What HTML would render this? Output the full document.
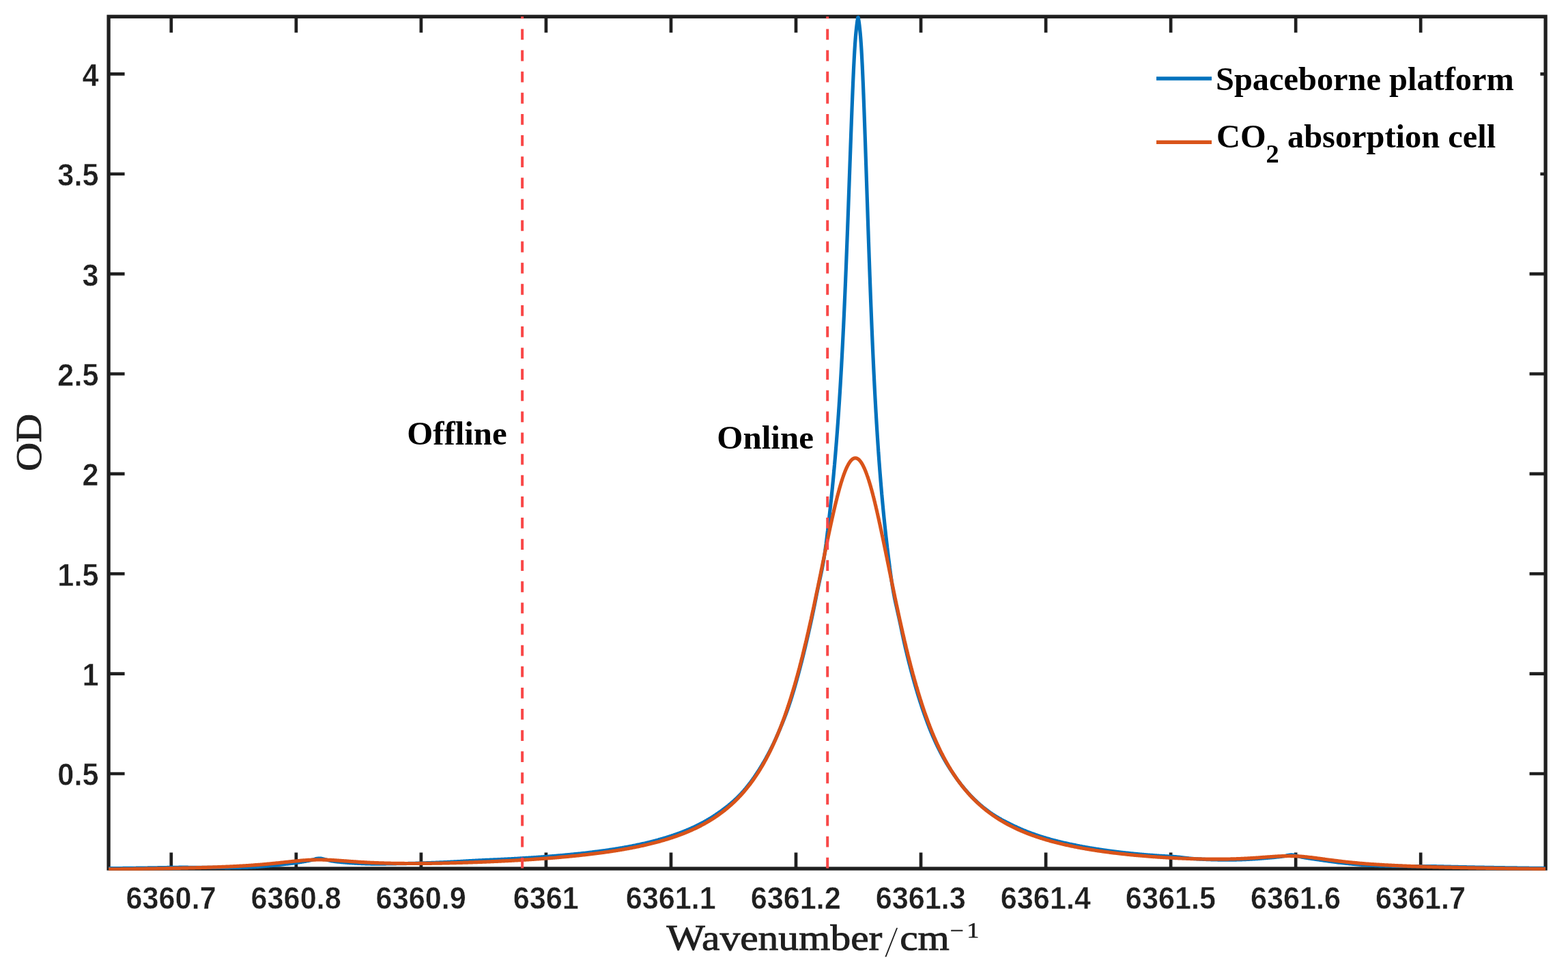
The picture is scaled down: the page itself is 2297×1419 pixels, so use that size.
<!DOCTYPE html>
<html lang="en"><head><meta charset="utf-8"><title>OD vs Wavenumber</title>
<style>
html,body{margin:0;padding:0;background:#fff;}
body{width:2297px;height:1419px;overflow:hidden;}
svg{display:block;filter:blur(0.4px);}
.tick{font-family:"Liberation Sans",Arial,Helvetica,sans-serif;font-weight:bold;font-size:43.2px;fill:#1f1f1f;stroke:#fff;stroke-width:0.45px;}
.leg{font-family:"Liberation Serif","Times New Roman",Times,serif;font-weight:bold;font-size:48.4px;fill:#000;}
.lab{font-family:"Liberation Serif","Times New Roman",Times,serif;font-size:52px;fill:#1f1f1f;stroke:#1f1f1f;stroke-width:0.9px;}
</style></head><body>
<svg width="2297" height="1419" viewBox="0 0 2297 1419" role="img" aria-label="OD versus wavenumber: spaceborne platform and CO2 absorption cell">
<rect x="0" y="0" width="2297" height="1419" fill="#ffffff"/>
<defs><clipPath id="clip"><rect x="156.45" y="21.65" width="2110.30" height="1253.00"/></clipPath>
<clipPath id="clip2"><rect x="159.10" y="24.30" width="2105.00" height="1247.70"/></clipPath></defs>
<g stroke="#1f1f1f" stroke-width="5.30" fill="none" stroke-linecap="butt">
<rect x="159.10" y="24.30" width="2105.00" height="1247.70"/>
<path stroke-width="4.70" d="M250.80,1272.00 V1248.50 M250.80,24.30 V47.80 M433.84,1272.00 V1248.50 M433.84,24.30 V47.80 M616.88,1272.00 V1248.50 M616.88,24.30 V47.80 M799.92,1272.00 V1248.50 M799.92,24.30 V47.80 M982.96,1272.00 V1248.50 M982.96,24.30 V47.80 M1166.00,1272.00 V1248.50 M1166.00,24.30 V47.80 M1349.04,1272.00 V1248.50 M1349.04,24.30 V47.80 M1532.08,1272.00 V1248.50 M1532.08,24.30 V47.80 M1715.12,1272.00 V1248.50 M1715.12,24.30 V47.80 M1898.16,1272.00 V1248.50 M1898.16,24.30 V47.80 M2081.20,1272.00 V1248.50 M2081.20,24.30 V47.80 M159.10,1132.99 H182.60 M2264.10,1132.99 H2240.60 M159.10,986.62 H182.60 M2264.10,986.62 H2240.60 M159.10,840.25 H182.60 M2264.10,840.25 H2240.60 M159.10,693.88 H182.60 M2264.10,693.88 H2240.60 M159.10,547.51 H182.60 M2264.10,547.51 H2240.60 M159.10,401.14 H182.60 M2264.10,401.14 H2240.60 M159.10,254.77 H182.60 M2264.10,254.77 H2240.60 M159.10,108.40 H182.60 M2264.10,108.40 H2240.60"/>
</g>
<g class="tick" text-anchor="middle">
<text transform="translate(250.60,1330.80) scale(1,1.052)">6360.7</text>
<text transform="translate(433.64,1330.80) scale(1,1.052)">6360.8</text>
<text transform="translate(616.68,1330.80) scale(1,1.052)">6360.9</text>
<text transform="translate(799.72,1330.80) scale(1,1.052)">6361</text>
<text transform="translate(982.76,1330.80) scale(1,1.052)">6361.1</text>
<text transform="translate(1165.80,1330.80) scale(1,1.052)">6361.2</text>
<text transform="translate(1348.84,1330.80) scale(1,1.052)">6361.3</text>
<text transform="translate(1531.88,1330.80) scale(1,1.052)">6361.4</text>
<text transform="translate(1714.92,1330.80) scale(1,1.052)">6361.5</text>
<text transform="translate(1897.96,1330.80) scale(1,1.052)">6361.6</text>
<text transform="translate(2081.00,1330.80) scale(1,1.052)">6361.7</text>
</g>
<g class="tick" text-anchor="end">
<text transform="translate(144.40,1150.39) scale(1,1.052)">0.5</text>
<text transform="translate(144.40,1004.02) scale(1,1.052)">1</text>
<text transform="translate(144.40,857.65) scale(1,1.052)">1.5</text>
<text transform="translate(144.40,711.28) scale(1,1.052)">2</text>
<text transform="translate(144.40,564.91) scale(1,1.052)">2.5</text>
<text transform="translate(144.40,418.54) scale(1,1.052)">3</text>
<text transform="translate(144.40,272.17) scale(1,1.052)">3.5</text>
<text transform="translate(144.40,125.80) scale(1,1.052)">4</text>
</g>
<g clip-path="url(#clip)" fill="none" stroke-linejoin="bevel" stroke-linecap="butt">
<path stroke="#0072bd" stroke-width="5.20" d="M159.10,1271.72 L160.10,1271.71 L161.10,1271.69 L162.10,1271.68 L163.10,1271.67 L164.10,1271.66 L165.10,1271.65 L166.10,1271.64 L167.10,1271.62 L168.10,1271.61 L169.10,1271.60 L170.10,1271.59 L171.10,1271.58 L172.10,1271.57 L173.10,1271.55 L174.10,1271.54 L175.10,1271.53 L176.10,1271.52 L177.10,1271.50 L178.10,1271.49 L179.10,1271.48 L180.10,1271.47 L181.10,1271.46 L182.10,1271.44 L183.10,1271.43 L184.10,1271.42 L185.10,1271.40 L186.10,1271.39 L187.10,1271.38 L188.10,1271.37 L189.10,1271.35 L190.10,1271.34 L191.10,1271.33 L192.10,1271.31 L193.10,1271.30 L194.10,1271.29 L195.10,1271.27 L196.10,1271.26 L197.10,1271.24 L198.10,1271.23 L199.10,1271.22 L200.10,1271.20 L201.10,1271.19 L202.10,1271.17 L203.10,1271.16 L204.10,1271.15 L205.10,1271.13 L206.10,1271.12 L207.10,1271.10 L208.10,1271.09 L209.10,1271.07 L210.10,1271.06 L211.10,1271.04 L212.10,1271.03 L213.10,1271.01 L214.10,1271.00 L215.10,1270.98 L216.10,1270.97 L217.10,1270.95 L218.10,1270.93 L219.10,1270.92 L220.10,1270.90 L221.10,1270.89 L222.10,1270.87 L223.10,1270.85 L224.10,1270.84 L225.10,1270.82 L226.10,1270.80 L227.10,1270.79 L228.10,1270.77 L229.10,1270.75 L230.10,1270.74 L231.10,1270.72 L232.10,1270.70 L233.10,1270.68 L234.10,1270.67 L235.10,1270.65 L236.10,1270.63 L237.10,1270.61 L238.10,1270.59 L239.10,1270.58 L240.10,1270.56 L241.10,1270.54 L242.10,1270.52 L243.10,1270.50 L244.10,1270.48 L245.10,1270.46 L246.10,1270.45 L247.10,1270.43 L248.10,1270.41 L249.10,1270.39 L250.10,1270.37 L251.10,1270.35 L252.10,1270.33 L253.10,1270.31 L254.10,1270.30 L255.10,1270.29 L256.10,1270.27 L257.10,1270.26 L258.10,1270.25 L259.10,1270.24 L260.10,1270.24 L261.10,1270.23 L262.10,1270.22 L263.10,1270.22 L264.10,1270.21 L265.10,1270.21 L266.10,1270.21 L267.10,1270.21 L268.10,1270.21 L269.10,1270.21 L270.10,1270.21 L271.10,1270.21 L272.10,1270.21 L273.10,1270.22 L274.10,1270.22 L275.10,1270.22 L276.10,1270.23 L277.10,1270.23 L278.10,1270.23 L279.10,1270.24 L280.10,1270.24 L281.10,1270.25 L282.10,1270.25 L283.10,1270.26 L284.10,1270.27 L285.10,1270.27 L286.10,1270.28 L287.10,1270.28 L288.10,1270.29 L289.10,1270.29 L290.10,1270.30 L291.10,1270.30 L292.10,1270.31 L293.10,1270.31 L294.10,1270.31 L295.10,1270.32 L296.10,1270.32 L297.10,1270.32 L298.10,1270.32 L299.10,1270.32 L300.10,1270.32 L301.10,1270.32 L302.10,1270.32 L303.10,1270.33 L304.10,1270.33 L305.10,1270.33 L306.10,1270.34 L307.10,1270.34 L308.10,1270.35 L309.10,1270.36 L310.10,1270.36 L311.10,1270.37 L312.10,1270.38 L313.10,1270.39 L314.10,1270.40 L315.10,1270.41 L316.10,1270.42 L317.10,1270.43 L318.10,1270.44 L319.10,1270.45 L320.10,1270.46 L321.10,1270.46 L322.10,1270.47 L323.10,1270.48 L324.10,1270.49 L325.10,1270.50 L326.10,1270.51 L327.10,1270.51 L328.10,1270.52 L329.10,1270.52 L330.10,1270.53 L331.10,1270.53 L332.10,1270.53 L333.10,1270.53 L334.10,1270.53 L335.10,1270.53 L336.10,1270.53 L337.10,1270.53 L338.10,1270.52 L339.10,1270.52 L340.10,1270.51 L341.10,1270.50 L342.10,1270.49 L343.10,1270.48 L344.10,1270.46 L345.10,1270.45 L346.10,1270.43 L347.10,1270.41 L348.10,1270.39 L349.10,1270.37 L350.10,1270.35 L351.10,1270.33 L352.10,1270.31 L353.10,1270.29 L354.10,1270.27 L355.10,1270.25 L356.10,1270.23 L357.10,1270.20 L358.10,1270.18 L359.10,1270.15 L360.10,1270.12 L361.10,1270.09 L362.10,1270.06 L363.10,1270.03 L364.10,1270.00 L365.10,1269.96 L366.10,1269.92 L367.10,1269.88 L368.10,1269.84 L369.10,1269.80 L370.10,1269.75 L371.10,1269.70 L372.10,1269.65 L373.10,1269.60 L374.10,1269.54 L375.10,1269.48 L376.10,1269.42 L377.10,1269.35 L378.10,1269.29 L379.10,1269.22 L380.10,1269.14 L381.10,1269.06 L382.10,1268.99 L383.10,1268.91 L384.10,1268.83 L385.10,1268.75 L386.10,1268.66 L387.10,1268.58 L388.10,1268.50 L389.10,1268.41 L390.10,1268.32 L391.10,1268.23 L392.10,1268.14 L393.10,1268.05 L394.10,1267.96 L395.10,1267.87 L396.10,1267.77 L397.10,1267.68 L398.10,1267.58 L399.10,1267.48 L400.10,1267.38 L401.10,1267.28 L402.10,1267.18 L403.10,1267.08 L404.10,1266.97 L405.10,1266.87 L406.10,1266.76 L407.10,1266.66 L408.10,1266.55 L409.10,1266.44 L410.10,1266.33 L411.10,1266.22 L412.10,1266.10 L413.10,1265.99 L414.10,1265.88 L415.10,1265.76 L416.10,1265.64 L417.10,1265.53 L418.10,1265.41 L419.10,1265.29 L420.10,1265.17 L421.10,1265.05 L422.10,1264.93 L423.10,1264.81 L424.10,1264.68 L425.10,1264.56 L426.10,1264.43 L427.10,1264.31 L428.10,1264.18 L429.10,1264.06 L430.10,1263.93 L431.10,1263.80 L432.10,1263.67 L433.10,1263.54 L434.10,1263.41 L435.10,1263.27 L436.10,1263.13 L437.10,1262.99 L438.10,1262.84 L439.10,1262.69 L440.10,1262.53 L441.10,1262.38 L442.10,1262.22 L443.10,1262.05 L444.10,1261.89 L445.10,1261.72 L446.10,1261.54 L447.10,1261.37 L448.10,1261.19 L449.10,1261.00 L450.10,1260.81 L451.10,1260.61 L452.10,1260.41 L453.10,1260.20 L454.10,1259.98 L455.10,1259.74 L456.10,1259.50 L457.10,1259.24 L458.10,1258.98 L459.10,1258.70 L460.10,1258.43 L461.10,1258.15 L462.10,1257.88 L463.10,1257.63 L464.10,1257.41 L465.10,1257.22 L466.10,1257.08 L467.10,1257.00 L468.10,1256.98 L469.10,1257.01 L470.10,1257.11 L471.10,1257.26 L472.10,1257.46 L473.10,1257.69 L474.10,1257.95 L475.10,1258.22 L476.10,1258.50 L477.10,1258.77 L478.10,1259.04 L479.10,1259.31 L480.10,1259.56 L481.10,1259.80 L482.10,1260.02 L483.10,1260.24 L484.10,1260.44 L485.10,1260.64 L486.10,1260.82 L487.10,1260.99 L488.10,1261.15 L489.10,1261.30 L490.10,1261.44 L491.10,1261.58 L492.10,1261.70 L493.10,1261.83 L494.10,1261.94 L495.10,1262.05 L496.10,1262.16 L497.10,1262.26 L498.10,1262.37 L499.10,1262.46 L500.10,1262.56 L501.10,1262.65 L502.10,1262.74 L503.10,1262.84 L504.10,1262.92 L505.10,1263.01 L506.10,1263.09 L507.10,1263.18 L508.10,1263.26 L509.10,1263.33 L510.10,1263.41 L511.10,1263.49 L512.10,1263.56 L513.10,1263.63 L514.10,1263.70 L515.10,1263.77 L516.10,1263.84 L517.10,1263.90 L518.10,1263.96 L519.10,1264.03 L520.10,1264.09 L521.10,1264.15 L522.10,1264.20 L523.10,1264.26 L524.10,1264.31 L525.10,1264.36 L526.10,1264.42 L527.10,1264.46 L528.10,1264.51 L529.10,1264.56 L530.10,1264.60 L531.10,1264.65 L532.10,1264.69 L533.10,1264.73 L534.10,1264.77 L535.10,1264.80 L536.10,1264.84 L537.10,1264.87 L538.10,1264.90 L539.10,1264.93 L540.10,1264.96 L541.10,1264.99 L542.10,1265.02 L543.10,1265.04 L544.10,1265.06 L545.10,1265.07 L546.10,1265.09 L547.10,1265.10 L548.10,1265.11 L549.10,1265.12 L550.10,1265.13 L551.10,1265.13 L552.10,1265.13 L553.10,1265.13 L554.10,1265.13 L555.10,1265.13 L556.10,1265.12 L557.10,1265.12 L558.10,1265.11 L559.10,1265.10 L560.10,1265.09 L561.10,1265.08 L562.10,1265.07 L563.10,1265.06 L564.10,1265.04 L565.10,1265.03 L566.10,1265.01 L567.10,1265.00 L568.10,1264.98 L569.10,1264.96 L570.10,1264.95 L571.10,1264.93 L572.10,1264.91 L573.10,1264.89 L574.10,1264.88 L575.10,1264.86 L576.10,1264.84 L577.10,1264.83 L578.10,1264.81 L579.10,1264.79 L580.10,1264.78 L581.10,1264.76 L582.10,1264.75 L583.10,1264.73 L584.10,1264.72 L585.10,1264.70 L586.10,1264.69 L587.10,1264.67 L588.10,1264.65 L589.10,1264.64 L590.10,1264.62 L591.10,1264.60 L592.10,1264.58 L593.10,1264.56 L594.10,1264.55 L595.10,1264.53 L596.10,1264.51 L597.10,1264.49 L598.10,1264.47 L599.10,1264.45 L600.10,1264.42 L601.10,1264.40 L602.10,1264.38 L603.10,1264.36 L604.10,1264.33 L605.10,1264.31 L606.10,1264.29 L607.10,1264.26 L608.10,1264.24 L609.10,1264.21 L610.10,1264.18 L611.10,1264.16 L612.10,1264.13 L613.10,1264.10 L614.10,1264.07 L615.10,1264.04 L616.10,1264.01 L617.10,1263.98 L618.10,1263.95 L619.10,1263.92 L620.10,1263.88 L621.10,1263.85 L622.10,1263.82 L623.10,1263.78 L624.10,1263.75 L625.10,1263.71 L626.10,1263.68 L627.10,1263.64 L628.10,1263.60 L629.10,1263.56 L630.10,1263.53 L631.10,1263.49 L632.10,1263.45 L633.10,1263.41 L634.10,1263.37 L635.10,1263.33 L636.10,1263.29 L637.10,1263.25 L638.10,1263.21 L639.10,1263.16 L640.10,1263.12 L641.10,1263.08 L642.10,1263.04 L643.10,1262.99 L644.10,1262.95 L645.10,1262.91 L646.10,1262.86 L647.10,1262.82 L648.10,1262.77 L649.10,1262.73 L650.10,1262.68 L651.10,1262.64 L652.10,1262.59 L653.10,1262.55 L654.10,1262.50 L655.10,1262.46 L656.10,1262.41 L657.10,1262.36 L658.10,1262.32 L659.10,1262.27 L660.10,1262.22 L661.10,1262.17 L662.10,1262.12 L663.10,1262.07 L664.10,1262.02 L665.10,1261.97 L666.10,1261.92 L667.10,1261.87 L668.10,1261.81 L669.10,1261.76 L670.10,1261.70 L671.10,1261.65 L672.10,1261.59 L673.10,1261.53 L674.10,1261.48 L675.10,1261.42 L676.10,1261.36 L677.10,1261.30 L678.10,1261.24 L679.10,1261.18 L680.10,1261.13 L681.10,1261.07 L682.10,1261.01 L683.10,1260.95 L684.10,1260.89 L685.10,1260.83 L686.10,1260.77 L687.10,1260.71 L688.10,1260.65 L689.10,1260.59 L690.10,1260.54 L691.10,1260.48 L692.10,1260.42 L693.10,1260.36 L694.10,1260.31 L695.10,1260.25 L696.10,1260.20 L697.10,1260.14 L698.10,1260.09 L699.10,1260.04 L700.10,1259.98 L701.10,1259.93 L702.10,1259.88 L703.10,1259.83 L704.10,1259.78 L705.10,1259.73 L706.10,1259.69 L707.10,1259.64 L708.10,1259.59 L709.10,1259.55 L710.10,1259.51 L711.10,1259.47 L712.10,1259.43 L713.10,1259.39 L714.10,1259.34 L715.10,1259.30 L716.10,1259.26 L717.10,1259.22 L718.10,1259.17 L719.10,1259.13 L720.10,1259.09 L721.10,1259.04 L722.10,1259.00 L723.10,1258.95 L724.10,1258.91 L725.10,1258.86 L726.10,1258.82 L727.10,1258.77 L728.10,1258.73 L729.10,1258.68 L730.10,1258.63 L731.10,1258.59 L732.10,1258.54 L733.10,1258.49 L734.10,1258.44 L735.10,1258.39 L736.10,1258.35 L737.10,1258.30 L738.10,1258.25 L739.10,1258.20 L740.10,1258.15 L741.10,1258.09 L742.10,1258.04 L743.10,1257.99 L744.10,1257.94 L745.10,1257.89 L746.10,1257.84 L747.10,1257.78 L748.10,1257.73 L749.10,1257.68 L750.10,1257.62 L751.10,1257.57 L752.10,1257.51 L753.10,1257.46 L754.10,1257.40 L755.10,1257.35 L756.10,1257.29 L757.10,1257.23 L758.10,1257.18 L759.10,1257.12 L760.10,1257.06 L761.10,1257.00 L762.10,1256.94 L763.10,1256.88 L764.10,1256.83 L765.10,1256.77 L766.10,1256.70 L767.10,1256.64 L768.10,1256.58 L769.10,1256.52 L770.10,1256.46 L771.10,1256.40 L772.10,1256.33 L773.10,1256.27 L774.10,1256.21 L775.10,1256.14 L776.10,1256.08 L777.10,1256.01 L778.10,1255.95 L779.10,1255.88 L780.10,1255.82 L781.10,1255.75 L782.10,1255.68 L783.10,1255.62 L784.10,1255.55 L785.10,1255.48 L786.10,1255.41 L787.10,1255.34 L788.10,1255.27 L789.10,1255.20 L790.10,1255.13 L791.10,1255.06 L792.10,1254.99 L793.10,1254.91 L794.10,1254.84 L795.10,1254.77 L796.10,1254.70 L797.10,1254.62 L798.10,1254.55 L799.10,1254.47 L800.10,1254.40 L801.10,1254.32 L802.10,1254.24 L803.10,1254.17 L804.10,1254.09 L805.10,1254.01 L806.10,1253.93 L807.10,1253.85 L808.10,1253.77 L809.10,1253.69 L810.10,1253.61 L811.10,1253.53 L812.10,1253.45 L813.10,1253.36 L814.10,1253.28 L815.10,1253.20 L816.10,1253.11 L817.10,1253.03 L818.10,1252.94 L819.10,1252.86 L820.10,1252.77 L821.10,1252.68 L822.10,1252.59 L823.10,1252.50 L824.10,1252.42 L825.10,1252.33 L826.10,1252.24 L827.10,1252.14 L828.10,1252.05 L829.10,1251.96 L830.10,1251.87 L831.10,1251.77 L832.10,1251.68 L833.10,1251.59 L834.10,1251.49 L835.10,1251.39 L836.10,1251.30 L837.10,1251.20 L838.10,1251.10 L839.10,1251.00 L840.10,1250.90 L841.10,1250.80 L842.10,1250.70 L843.10,1250.60 L844.10,1250.50 L845.10,1250.39 L846.10,1250.29 L847.10,1250.19 L848.10,1250.08 L849.10,1249.97 L850.10,1249.87 L851.10,1249.76 L852.10,1249.65 L853.10,1249.54 L854.10,1249.43 L855.10,1249.32 L856.10,1249.21 L857.10,1249.10 L858.10,1248.98 L859.10,1248.87 L860.10,1248.75 L861.10,1248.64 L862.10,1248.52 L863.10,1248.40 L864.10,1248.29 L865.10,1248.17 L866.10,1248.05 L867.10,1247.93 L868.10,1247.80 L869.10,1247.68 L870.10,1247.56 L871.10,1247.43 L872.10,1247.31 L873.10,1247.18 L874.10,1247.05 L875.10,1246.93 L876.10,1246.80 L877.10,1246.67 L878.10,1246.53 L879.10,1246.40 L880.10,1246.27 L881.10,1246.13 L882.10,1246.00 L883.10,1245.86 L884.10,1245.73 L885.10,1245.59 L886.10,1245.45 L887.10,1245.31 L888.10,1245.17 L889.10,1245.02 L890.10,1244.88 L891.10,1244.73 L892.10,1244.59 L893.10,1244.44 L894.10,1244.29 L895.10,1244.14 L896.10,1243.99 L897.10,1243.84 L898.10,1243.69 L899.10,1243.53 L900.10,1243.38 L901.10,1243.22 L902.10,1243.06 L903.10,1242.90 L904.10,1242.74 L905.10,1242.58 L906.10,1242.41 L907.10,1242.25 L908.10,1242.08 L909.10,1241.91 L910.10,1241.74 L911.10,1241.57 L912.10,1241.39 L913.10,1241.22 L914.10,1241.04 L915.10,1240.86 L916.10,1240.68 L917.10,1240.50 L918.10,1240.32 L919.10,1240.14 L920.10,1239.95 L921.10,1239.76 L922.10,1239.57 L923.10,1239.38 L924.10,1239.19 L925.10,1238.99 L926.10,1238.80 L927.10,1238.60 L928.10,1238.40 L929.10,1238.20 L930.10,1237.99 L931.10,1237.79 L932.10,1237.58 L933.10,1237.37 L934.10,1237.16 L935.10,1236.95 L936.10,1236.73 L937.10,1236.52 L938.10,1236.30 L939.10,1236.08 L940.10,1235.86 L941.10,1235.63 L942.10,1235.41 L943.10,1235.18 L944.10,1234.95 L945.10,1234.72 L946.10,1234.48 L947.10,1234.25 L948.10,1234.01 L949.10,1233.77 L950.10,1233.53 L951.10,1233.28 L952.10,1233.04 L953.10,1232.79 L954.10,1232.54 L955.10,1232.28 L956.10,1232.03 L957.10,1231.77 L958.10,1231.51 L959.10,1231.25 L960.10,1230.98 L961.10,1230.71 L962.10,1230.44 L963.10,1230.17 L964.10,1229.90 L965.10,1229.62 L966.10,1229.34 L967.10,1229.06 L968.10,1228.77 L969.10,1228.48 L970.10,1228.19 L971.10,1227.90 L972.10,1227.61 L973.10,1227.31 L974.10,1227.01 L975.10,1226.70 L976.10,1226.40 L977.10,1226.09 L978.10,1225.77 L979.10,1225.46 L980.10,1225.14 L981.10,1224.82 L982.10,1224.49 L983.10,1224.17 L984.10,1223.84 L985.10,1223.50 L986.10,1223.17 L987.10,1222.83 L988.10,1222.48 L989.10,1222.13 L990.10,1221.78 L991.10,1221.43 L992.10,1221.07 L993.10,1220.71 L994.10,1220.34 L995.10,1219.98 L996.10,1219.60 L997.10,1219.23 L998.10,1218.84 L999.10,1218.46 L1000.10,1218.07 L1001.10,1217.68 L1002.10,1217.28 L1003.10,1216.88 L1004.10,1216.47 L1005.10,1216.07 L1006.10,1215.65 L1007.10,1215.23 L1008.10,1214.81 L1009.10,1214.38 L1010.10,1213.95 L1011.10,1213.51 L1012.10,1213.07 L1013.10,1212.63 L1014.10,1212.17 L1015.10,1211.72 L1016.10,1211.26 L1017.10,1210.79 L1018.10,1210.32 L1019.10,1209.84 L1020.10,1209.36 L1021.10,1208.87 L1022.10,1208.38 L1023.10,1207.88 L1024.10,1207.38 L1025.10,1206.87 L1026.10,1206.35 L1027.10,1205.83 L1028.10,1205.31 L1029.10,1204.77 L1030.10,1204.23 L1031.10,1203.69 L1032.10,1203.14 L1033.10,1202.58 L1034.10,1202.01 L1035.10,1201.44 L1036.10,1200.86 L1037.10,1200.28 L1038.10,1199.69 L1039.10,1199.09 L1040.10,1198.48 L1041.10,1197.87 L1042.10,1197.25 L1043.10,1196.62 L1044.10,1195.99 L1045.10,1195.35 L1046.10,1194.69 L1047.10,1194.04 L1048.10,1193.37 L1049.10,1192.69 L1050.10,1192.01 L1051.10,1191.32 L1052.10,1190.63 L1053.10,1189.93 L1054.10,1189.23 L1055.10,1188.52 L1056.10,1187.80 L1057.10,1187.08 L1058.10,1186.35 L1059.10,1185.61 L1060.10,1184.87 L1061.10,1184.12 L1062.10,1183.36 L1063.10,1182.59 L1064.10,1181.81 L1065.10,1181.02 L1066.10,1180.23 L1067.10,1179.42 L1068.10,1178.60 L1069.10,1177.78 L1070.10,1176.94 L1071.10,1176.09 L1072.10,1175.23 L1073.10,1174.35 L1074.10,1173.47 L1075.10,1172.57 L1076.10,1171.65 L1077.10,1170.73 L1078.10,1169.78 L1079.10,1168.83 L1080.10,1167.86 L1081.10,1166.87 L1082.10,1165.87 L1083.10,1164.85 L1084.10,1163.81 L1085.10,1162.76 L1086.10,1161.69 L1087.10,1160.60 L1088.10,1159.49 L1089.10,1158.36 L1090.10,1157.21 L1091.10,1156.05 L1092.10,1154.86 L1093.10,1153.65 L1094.10,1152.43 L1095.10,1151.18 L1096.10,1149.92 L1097.10,1148.64 L1098.10,1147.34 L1099.10,1146.02 L1100.10,1144.68 L1101.10,1143.32 L1102.10,1141.94 L1103.10,1140.55 L1104.10,1139.13 L1105.10,1137.69 L1106.10,1136.23 L1107.10,1134.75 L1108.10,1133.25 L1109.10,1131.73 L1110.10,1130.19 L1111.10,1128.62 L1112.10,1127.04 L1113.10,1125.44 L1114.10,1123.82 L1115.10,1122.19 L1116.10,1120.53 L1117.10,1118.86 L1118.10,1117.16 L1119.10,1115.45 L1120.10,1113.71 L1121.10,1111.95 L1122.10,1110.17 L1123.10,1108.36 L1124.10,1106.53 L1125.10,1104.68 L1126.10,1102.79 L1127.10,1100.89 L1128.10,1098.95 L1129.10,1096.99 L1130.10,1094.99 L1131.10,1092.97 L1132.10,1090.92 L1133.10,1088.84 L1134.10,1086.72 L1135.10,1084.57 L1136.10,1082.39 L1137.10,1080.18 L1138.10,1077.93 L1139.10,1075.64 L1140.10,1073.32 L1141.10,1070.98 L1142.10,1068.62 L1143.10,1066.25 L1144.10,1063.86 L1145.10,1061.44 L1146.10,1059.00 L1147.10,1056.52 L1148.10,1054.01 L1149.10,1051.46 L1150.10,1048.87 L1151.10,1046.23 L1152.10,1043.54 L1153.10,1040.80 L1154.10,1038.01 L1155.10,1035.15 L1156.10,1032.23 L1157.10,1029.25 L1158.10,1026.19 L1159.10,1023.06 L1160.10,1019.86 L1161.10,1016.59 L1162.10,1013.28 L1163.10,1009.92 L1164.10,1006.51 L1165.10,1003.05 L1166.10,999.55 L1167.10,995.99 L1168.10,992.39 L1169.10,988.74 L1170.10,985.04 L1171.10,981.30 L1172.10,977.50 L1173.10,973.65 L1174.10,969.76 L1175.10,965.82 L1176.10,961.83 L1177.10,957.79 L1178.10,953.71 L1179.10,949.57 L1180.00,945.82 L1180.10,945.40 L1180.25,944.77 L1180.50,943.71 L1180.75,942.65 L1181.00,941.60 L1181.10,941.17 L1181.25,940.53 L1181.50,939.47 L1181.75,938.40 L1182.00,937.33 L1182.10,936.90 L1182.25,936.26 L1182.50,935.18 L1182.75,934.10 L1183.00,933.02 L1183.10,932.59 L1183.25,931.94 L1183.50,930.85 L1183.75,929.76 L1184.00,928.67 L1184.10,928.23 L1184.25,927.57 L1184.50,926.47 L1184.75,925.37 L1185.00,924.27 L1185.10,923.83 L1185.25,923.16 L1185.50,922.05 L1185.75,920.94 L1186.00,919.83 L1186.10,919.38 L1186.25,918.71 L1186.50,917.59 L1186.75,916.47 L1187.00,915.35 L1187.10,914.90 L1187.25,914.22 L1187.50,913.09 L1187.75,911.96 L1188.00,910.83 L1188.10,910.37 L1188.25,909.69 L1188.50,908.55 L1188.75,907.40 L1189.00,906.24 L1189.10,905.78 L1189.25,905.08 L1189.50,903.92 L1189.75,902.75 L1190.00,901.57 L1190.10,901.10 L1190.25,900.39 L1190.50,899.21 L1190.75,898.02 L1191.00,896.82 L1191.10,896.35 L1191.25,895.63 L1191.50,894.42 L1191.75,893.21 L1192.00,892.00 L1192.10,891.52 L1192.25,890.79 L1192.50,889.57 L1192.75,888.34 L1193.00,887.11 L1193.10,886.62 L1193.25,885.88 L1193.50,884.64 L1193.75,883.40 L1194.00,882.16 L1194.10,881.66 L1194.25,880.91 L1194.50,879.66 L1194.75,878.41 L1195.00,877.15 L1195.10,876.65 L1195.25,875.89 L1195.50,874.63 L1195.75,873.36 L1196.00,872.09 L1196.10,871.59 L1196.25,870.83 L1196.50,869.58 L1196.75,868.35 L1197.00,867.12 L1197.10,866.64 L1197.25,865.91 L1197.50,864.72 L1197.75,863.53 L1198.00,862.35 L1198.10,861.88 L1198.25,861.18 L1198.50,860.01 L1198.75,858.85 L1199.00,857.70 L1199.10,857.24 L1199.25,856.56 L1199.50,855.41 L1199.75,854.27 L1200.00,853.13 L1200.10,852.67 L1200.25,851.99 L1200.50,850.85 L1200.75,849.71 L1201.00,848.56 L1201.10,848.10 L1201.25,847.41 L1201.50,846.26 L1201.75,845.10 L1202.00,843.93 L1202.10,843.46 L1202.25,842.76 L1202.50,841.57 L1202.75,840.38 L1203.00,839.17 L1203.10,838.71 L1203.25,838.00 L1203.50,836.82 L1203.75,835.62 L1204.00,834.40 L1204.10,833.90 L1204.25,833.15 L1204.50,831.89 L1204.75,830.60 L1205.00,829.29 L1205.10,828.76 L1205.25,827.96 L1205.50,826.60 L1205.75,825.21 L1206.00,823.80 L1206.10,823.22 L1206.25,822.36 L1206.50,820.89 L1206.75,819.39 L1207.00,817.86 L1207.10,817.24 L1207.25,816.30 L1207.50,814.72 L1207.75,813.10 L1208.00,811.45 L1208.10,810.78 L1208.25,809.77 L1208.50,808.06 L1208.75,806.32 L1209.00,804.55 L1209.10,803.84 L1209.25,802.75 L1209.50,800.92 L1209.75,799.06 L1210.00,797.18 L1210.10,796.41 L1210.25,795.26 L1210.50,793.32 L1210.75,791.35 L1211.00,789.35 L1211.10,788.55 L1211.25,787.34 L1211.50,785.30 L1211.75,783.24 L1212.00,781.16 L1212.10,780.32 L1212.25,779.06 L1212.50,776.95 L1212.75,774.83 L1213.00,772.70 L1213.10,771.84 L1213.25,770.56 L1213.50,768.42 L1213.75,766.27 L1214.00,764.13 L1214.10,763.27 L1214.25,761.98 L1214.50,759.82 L1214.75,757.64 L1215.00,755.44 L1215.10,754.56 L1215.25,753.23 L1215.50,751.00 L1215.75,748.76 L1216.00,746.50 L1216.10,745.59 L1216.25,744.22 L1216.50,741.92 L1216.75,739.61 L1217.00,737.27 L1217.10,736.34 L1217.25,734.92 L1217.50,732.55 L1217.75,730.16 L1218.00,727.76 L1218.10,726.79 L1218.25,725.33 L1218.50,722.88 L1218.75,720.42 L1219.00,717.93 L1219.10,716.93 L1219.25,715.42 L1219.50,712.89 L1219.75,710.34 L1220.00,707.77 L1220.10,706.73 L1220.25,705.17 L1220.50,702.55 L1220.75,699.91 L1221.00,697.25 L1221.10,696.17 L1221.25,694.56 L1221.50,691.84 L1221.75,689.11 L1222.00,686.34 L1222.10,685.23 L1222.25,683.55 L1222.50,680.74 L1222.75,677.89 L1223.00,675.02 L1223.10,673.87 L1223.25,672.12 L1223.50,669.20 L1223.75,666.24 L1224.00,663.26 L1224.10,662.05 L1224.25,660.24 L1224.50,657.20 L1224.75,654.12 L1225.00,651.01 L1225.10,649.75 L1225.25,647.86 L1225.50,644.69 L1225.75,641.48 L1226.00,638.23 L1226.10,636.93 L1226.25,634.95 L1226.50,631.64 L1226.75,628.28 L1227.00,624.89 L1227.10,623.52 L1227.25,621.46 L1227.50,617.99 L1227.75,614.48 L1228.00,610.93 L1228.10,609.50 L1228.25,607.34 L1228.50,603.70 L1228.75,600.02 L1229.00,596.30 L1229.10,594.80 L1229.25,592.53 L1229.50,588.72 L1229.75,584.86 L1230.00,580.95 L1230.10,579.37 L1230.25,576.99 L1230.50,572.98 L1230.75,568.92 L1231.00,564.81 L1231.10,563.15 L1231.25,560.65 L1231.50,556.43 L1231.75,552.16 L1232.00,547.84 L1232.10,546.09 L1232.25,543.46 L1232.50,539.02 L1232.75,534.52 L1233.00,529.97 L1233.10,528.13 L1233.25,525.35 L1233.50,520.68 L1233.75,515.95 L1234.00,511.15 L1234.10,509.21 L1234.25,506.29 L1234.50,501.37 L1234.75,496.39 L1235.00,491.34 L1235.10,489.30 L1235.25,486.22 L1235.50,481.05 L1235.75,475.80 L1236.00,470.49 L1236.10,468.35 L1236.25,465.12 L1236.50,459.68 L1236.75,454.17 L1237.00,448.60 L1237.10,446.35 L1237.25,442.96 L1237.50,437.26 L1237.75,431.49 L1238.00,425.65 L1238.10,423.30 L1238.25,419.75 L1238.50,413.79 L1238.75,407.76 L1239.00,401.67 L1239.10,399.22 L1239.25,395.52 L1239.50,389.31 L1239.75,383.04 L1240.00,376.71 L1240.10,374.17 L1240.25,370.33 L1240.50,363.89 L1240.75,357.40 L1241.00,350.86 L1241.10,348.22 L1241.25,344.26 L1241.50,337.63 L1241.75,330.95 L1242.00,324.23 L1242.10,321.53 L1242.25,317.47 L1242.50,310.67 L1242.75,303.84 L1243.00,296.99 L1243.10,294.24 L1243.25,290.10 L1243.50,283.20 L1243.75,276.28 L1244.00,269.35 L1244.10,266.57 L1244.25,262.40 L1244.50,255.45 L1244.75,248.50 L1245.00,241.56 L1245.10,238.78 L1245.25,234.62 L1245.50,227.70 L1245.75,220.79 L1246.00,213.91 L1246.10,211.17 L1246.25,207.06 L1246.50,200.25 L1246.75,193.47 L1247.00,186.74 L1247.10,184.07 L1247.25,180.07 L1247.50,173.45 L1247.75,166.90 L1248.00,160.42 L1248.10,157.85 L1248.25,154.02 L1248.50,147.70 L1248.75,141.47 L1249.00,135.34 L1249.10,132.91 L1249.25,129.31 L1249.50,123.39 L1249.75,117.58 L1250.01,111.90 L1250.11,109.66 L1250.26,106.34 L1250.51,100.92 L1250.77,95.64 L1251.03,90.51 L1251.13,88.50 L1251.29,85.53 L1251.55,80.71 L1251.82,76.06 L1252.09,71.58 L1252.20,69.83 L1252.37,67.27 L1252.65,63.15 L1252.94,59.21 L1253.23,55.47 L1253.35,54.03 L1253.53,51.93 L1253.83,48.58 L1254.13,45.45 L1254.44,42.53 L1254.56,41.42 L1254.73,39.82 L1255.03,37.33 L1255.31,35.07 L1255.57,33.03 L1255.67,32.28 L1255.82,31.22 L1256.05,29.65 L1256.25,28.31 L1256.43,27.21 L1256.50,26.83 L1256.60,26.34 L1256.74,25.72 L1256.87,25.34 L1257.00,25.20 L1257.05,25.21 L1257.13,25.31 L1257.26,25.66 L1257.40,26.25 L1257.56,27.09 L1257.63,27.49 L1257.74,28.17 L1257.95,29.49 L1258.17,31.05 L1258.42,32.85 L1258.53,33.64 L1258.69,34.89 L1258.97,37.16 L1259.26,39.66 L1259.56,42.39 L1259.68,43.55 L1259.86,45.35 L1260.17,48.53 L1260.47,51.94 L1260.77,55.55 L1260.89,57.06 L1261.06,59.38 L1261.35,63.41 L1261.64,67.64 L1261.91,72.07 L1262.02,73.90 L1262.18,76.69 L1262.45,81.50 L1262.71,86.49 L1262.97,91.65 L1263.08,93.77 L1263.23,96.99 L1263.49,102.48 L1263.74,108.14 L1263.99,113.94 L1264.09,116.30 L1264.25,119.89 L1264.50,125.97 L1264.75,132.19 L1265.00,138.53 L1265.10,141.10 L1265.25,144.99 L1265.50,151.57 L1265.75,158.24 L1266.00,165.02 L1266.10,167.76 L1266.25,171.89 L1266.50,178.84 L1266.75,185.87 L1267.00,192.98 L1267.10,195.84 L1267.25,200.15 L1267.50,207.37 L1267.75,214.66 L1268.00,221.98 L1268.10,224.93 L1268.25,229.35 L1268.50,236.76 L1268.75,244.19 L1269.00,251.64 L1269.10,254.63 L1269.25,259.11 L1269.50,266.59 L1269.75,274.08 L1270.00,281.57 L1270.10,284.57 L1270.25,289.06 L1270.50,296.54 L1270.75,304.00 L1271.00,311.45 L1271.10,314.42 L1271.25,318.87 L1271.50,326.27 L1271.75,333.63 L1272.00,340.96 L1272.10,343.88 L1272.25,348.26 L1272.50,355.51 L1272.75,362.71 L1273.00,369.87 L1273.10,372.72 L1273.25,376.98 L1273.50,384.04 L1273.75,391.04 L1274.00,397.98 L1274.10,400.74 L1274.25,404.86 L1274.50,411.67 L1274.75,418.43 L1275.00,425.11 L1275.10,427.77 L1275.25,431.73 L1275.50,438.28 L1275.75,444.76 L1276.00,451.17 L1276.10,453.71 L1276.25,457.50 L1276.50,463.77 L1276.75,469.95 L1277.00,476.07 L1277.10,478.49 L1277.25,482.11 L1277.50,488.07 L1277.75,493.96 L1278.00,499.78 L1278.10,502.08 L1278.25,505.51 L1278.50,511.18 L1278.75,516.77 L1279.00,522.28 L1279.10,524.46 L1279.25,527.72 L1279.50,533.08 L1279.75,538.38 L1280.00,543.60 L1280.10,545.66 L1280.25,548.74 L1280.50,553.82 L1280.75,558.82 L1281.00,563.76 L1281.10,565.71 L1281.25,568.62 L1281.50,573.42 L1281.75,578.15 L1282.00,582.81 L1282.10,584.66 L1282.25,587.41 L1282.50,591.94 L1282.75,596.41 L1283.00,600.82 L1283.10,602.57 L1283.25,605.17 L1283.50,609.45 L1283.75,613.68 L1284.00,617.85 L1284.10,619.50 L1284.25,621.96 L1284.50,626.02 L1284.75,630.02 L1285.00,633.96 L1285.10,635.52 L1285.25,637.85 L1285.50,641.70 L1285.75,645.49 L1286.00,649.23 L1286.10,650.71 L1286.25,652.92 L1286.50,656.56 L1286.75,660.16 L1287.00,663.71 L1287.10,665.12 L1287.25,667.22 L1287.50,670.68 L1287.75,674.10 L1288.00,677.47 L1288.10,678.81 L1288.25,680.81 L1288.50,684.11 L1288.75,687.36 L1289.00,690.58 L1289.10,691.86 L1289.25,693.76 L1289.50,696.91 L1289.75,700.01 L1290.00,703.08 L1290.10,704.30 L1290.25,706.12 L1290.50,709.13 L1290.75,712.10 L1291.00,715.03 L1291.10,716.20 L1291.25,717.94 L1291.50,720.81 L1291.75,723.66 L1292.00,726.47 L1292.10,727.59 L1292.25,729.26 L1292.50,732.01 L1292.75,734.74 L1293.00,737.44 L1293.10,738.52 L1293.25,740.12 L1293.50,742.77 L1293.75,745.39 L1294.00,747.98 L1294.10,749.02 L1294.25,750.56 L1294.50,753.10 L1294.75,755.62 L1295.00,758.12 L1295.10,759.12 L1295.25,760.60 L1295.50,763.05 L1295.75,765.49 L1296.00,767.89 L1296.10,768.85 L1296.25,770.28 L1296.50,772.65 L1296.75,775.00 L1297.00,777.32 L1297.10,778.25 L1297.25,779.63 L1297.50,781.91 L1297.75,784.18 L1298.00,786.43 L1298.10,787.32 L1298.25,788.65 L1298.50,790.86 L1298.75,793.06 L1299.00,795.23 L1299.10,796.10 L1299.25,797.39 L1299.50,799.53 L1299.75,801.65 L1300.00,803.75 L1300.10,804.59 L1300.25,805.84 L1300.50,807.91 L1300.75,809.97 L1301.00,812.01 L1301.10,812.82 L1301.25,814.04 L1301.50,816.04 L1301.75,818.04 L1302.00,820.02 L1302.10,820.81 L1302.25,821.99 L1302.50,823.95 L1302.75,825.91 L1303.00,827.86 L1303.10,828.63 L1303.25,829.79 L1303.50,831.72 L1303.75,833.62 L1304.00,835.51 L1304.10,836.26 L1304.25,837.38 L1304.50,839.24 L1304.75,841.07 L1305.00,842.87 L1305.10,843.59 L1305.25,844.66 L1305.50,846.42 L1305.75,848.15 L1306.00,849.86 L1306.10,850.54 L1306.25,851.55 L1306.50,853.21 L1306.75,854.84 L1307.00,856.44 L1307.10,857.08 L1307.25,858.02 L1307.50,859.57 L1307.75,861.09 L1308.00,862.59 L1308.10,863.18 L1308.25,864.06 L1308.50,865.50 L1308.75,866.92 L1309.00,868.31 L1309.10,868.86 L1309.25,869.67 L1309.50,871.02 L1309.75,872.33 L1310.00,873.62 L1310.10,874.13 L1310.25,874.89 L1310.50,876.14 L1310.75,877.37 L1311.00,878.57 L1311.10,879.05 L1311.25,879.75 L1311.50,880.92 L1311.75,882.06 L1312.00,883.19 L1312.10,883.64 L1312.25,884.30 L1312.50,885.40 L1312.75,886.48 L1313.00,887.54 L1313.10,888.00 L1313.25,888.68 L1313.50,889.81 L1313.75,890.93 L1314.00,892.05 L1314.10,892.50 L1314.25,893.17 L1314.50,894.28 L1314.75,895.39 L1315.00,896.50 L1315.10,896.94 L1315.25,897.60 L1315.50,898.71 L1315.75,899.82 L1316.00,900.93 L1316.10,901.37 L1316.25,902.04 L1316.50,903.15 L1316.75,904.27 L1317.00,905.39 L1317.10,905.84 L1317.25,906.52 L1317.50,907.65 L1317.75,908.79 L1318.00,909.94 L1318.10,910.40 L1318.25,911.09 L1318.50,912.25 L1318.75,913.42 L1319.00,914.60 L1319.10,915.07 L1319.25,915.78 L1319.50,916.98 L1319.75,918.19 L1320.00,919.40 L1320.10,919.89 L1320.25,920.63 L1320.50,921.84 L1320.75,923.05 L1321.00,924.26 L1321.10,924.74 L1321.25,925.46 L1321.50,926.66 L1321.75,927.85 L1322.00,929.04 L1322.10,929.51 L1322.25,930.22 L1322.50,931.40 L1322.75,932.57 L1323.00,933.74 L1323.10,934.20 L1323.25,934.90 L1323.50,936.05 L1323.75,937.20 L1324.00,938.34 L1324.10,938.80 L1324.25,939.48 L1324.50,940.61 L1324.75,941.73 L1325.00,942.85 L1325.10,943.30 L1325.25,943.96 L1325.50,945.07 L1325.75,946.16 L1326.00,947.25 L1326.10,947.69 L1326.25,948.34 L1326.50,949.42 L1326.75,950.49 L1327.00,951.55 L1327.10,951.97 L1327.25,952.60 L1327.50,953.65 L1327.75,954.69 L1328.00,955.72 L1328.10,956.13 L1328.25,956.75 L1328.50,957.77 L1328.75,958.79 L1329.00,959.81 L1329.10,960.22 L1329.25,960.83 L1329.50,961.84 L1329.75,962.85 L1330.00,963.85 L1330.10,964.25 L1330.25,964.85 L1330.50,965.85 L1330.75,966.85 L1331.00,967.84 L1331.10,968.23 L1331.25,968.83 L1331.50,969.81 L1331.75,970.80 L1332.00,971.78 L1332.10,972.17 L1332.25,972.75 L1332.50,973.72 L1332.75,974.69 L1333.00,975.66 L1333.10,976.05 L1333.25,976.62 L1333.50,977.58 L1333.75,978.54 L1334.00,979.50 L1334.10,979.88 L1334.25,980.45 L1334.50,981.39 L1334.75,982.34 L1335.00,983.28 L1335.10,983.65 L1335.25,984.22 L1335.50,985.15 L1335.75,986.08 L1336.00,987.01 L1336.10,987.38 L1336.25,987.94 L1336.50,988.86 L1336.75,989.78 L1337.00,990.69 L1337.10,991.06 L1337.25,991.61 L1337.50,992.52 L1337.75,993.42 L1338.00,994.32 L1338.10,994.69 L1338.25,995.22 L1338.50,996.12 L1338.75,997.02 L1339.00,997.91 L1339.10,998.26 L1339.25,998.79 L1339.50,999.68 L1339.75,1000.56 L1340.10,1001.79 L1341.10,1005.26 L1342.10,1008.69 L1343.10,1012.06 L1344.10,1015.39 L1345.10,1018.67 L1346.10,1021.90 L1347.10,1025.09 L1348.10,1028.22 L1349.10,1031.31 L1350.10,1034.36 L1351.10,1037.36 L1352.10,1040.31 L1353.10,1043.22 L1354.10,1046.09 L1355.10,1048.91 L1356.10,1051.69 L1357.10,1054.43 L1358.10,1057.13 L1359.10,1059.78 L1360.10,1062.40 L1361.10,1064.97 L1362.10,1067.50 L1363.10,1069.98 L1364.10,1072.42 L1365.10,1074.82 L1366.10,1077.17 L1367.10,1079.49 L1368.10,1081.76 L1369.10,1084.00 L1370.10,1086.20 L1371.10,1088.36 L1372.10,1090.48 L1373.10,1092.57 L1374.10,1094.62 L1375.10,1096.64 L1376.10,1098.63 L1377.10,1100.59 L1378.10,1102.51 L1379.10,1104.41 L1380.10,1106.28 L1381.10,1108.12 L1382.10,1109.93 L1383.10,1111.71 L1384.10,1113.47 L1385.10,1115.21 L1386.10,1116.92 L1387.10,1118.59 L1388.10,1120.23 L1389.10,1121.85 L1390.10,1123.43 L1391.10,1125.00 L1392.10,1126.53 L1393.10,1128.05 L1394.10,1129.55 L1395.10,1131.03 L1396.10,1132.50 L1397.10,1133.95 L1398.10,1135.40 L1399.10,1136.83 L1400.10,1138.25 L1401.10,1139.66 L1402.10,1141.05 L1403.10,1142.42 L1404.10,1143.78 L1405.10,1145.11 L1406.10,1146.43 L1407.10,1147.73 L1408.10,1149.01 L1409.10,1150.27 L1410.10,1151.52 L1411.10,1152.75 L1412.10,1153.96 L1413.10,1155.16 L1414.10,1156.34 L1415.10,1157.50 L1416.10,1158.65 L1417.10,1159.78 L1418.10,1160.90 L1419.10,1162.00 L1420.10,1163.09 L1421.10,1164.16 L1422.10,1165.22 L1423.10,1166.27 L1424.10,1167.30 L1425.10,1168.31 L1426.10,1169.31 L1427.10,1170.30 L1428.10,1171.28 L1429.10,1172.24 L1430.10,1173.19 L1431.10,1174.12 L1432.10,1175.05 L1433.10,1175.96 L1434.10,1176.85 L1435.10,1177.74 L1436.10,1178.61 L1437.10,1179.47 L1438.10,1180.32 L1439.10,1181.15 L1440.10,1181.98 L1441.10,1182.79 L1442.10,1183.59 L1443.10,1184.38 L1444.10,1185.16 L1445.10,1185.93 L1446.10,1186.68 L1447.10,1187.43 L1448.10,1188.16 L1449.10,1188.88 L1450.10,1189.59 L1451.10,1190.29 L1452.10,1190.97 L1453.10,1191.65 L1454.10,1192.32 L1455.10,1192.98 L1456.10,1193.62 L1457.10,1194.26 L1458.10,1194.89 L1459.10,1195.51 L1460.10,1196.12 L1461.10,1196.73 L1462.10,1197.32 L1463.10,1197.91 L1464.10,1198.49 L1465.10,1199.06 L1466.10,1199.63 L1467.10,1200.19 L1468.10,1200.74 L1469.10,1201.28 L1470.10,1201.82 L1471.10,1202.35 L1472.10,1202.88 L1473.10,1203.40 L1474.10,1203.92 L1475.10,1204.43 L1476.10,1204.93 L1477.10,1205.43 L1478.10,1205.93 L1479.10,1206.42 L1480.10,1206.91 L1481.10,1207.39 L1482.10,1207.87 L1483.10,1208.35 L1484.10,1208.82 L1485.10,1209.29 L1486.10,1209.76 L1487.10,1210.23 L1488.10,1210.69 L1489.10,1211.15 L1490.10,1211.60 L1491.10,1212.06 L1492.10,1212.51 L1493.10,1212.96 L1494.10,1213.40 L1495.10,1213.84 L1496.10,1214.27 L1497.10,1214.70 L1498.10,1215.12 L1499.10,1215.54 L1500.10,1215.95 L1501.10,1216.36 L1502.10,1216.77 L1503.10,1217.17 L1504.10,1217.57 L1505.10,1217.96 L1506.10,1218.35 L1507.10,1218.73 L1508.10,1219.11 L1509.10,1219.49 L1510.10,1219.86 L1511.10,1220.23 L1512.10,1220.59 L1513.10,1220.95 L1514.10,1221.31 L1515.10,1221.66 L1516.10,1222.01 L1517.10,1222.36 L1518.10,1222.70 L1519.10,1223.04 L1520.10,1223.38 L1521.10,1223.71 L1522.10,1224.04 L1523.10,1224.36 L1524.10,1224.69 L1525.10,1225.01 L1526.10,1225.32 L1527.10,1225.63 L1528.10,1225.94 L1529.10,1226.25 L1530.10,1226.55 L1531.10,1226.86 L1532.10,1227.15 L1533.10,1227.45 L1534.10,1227.74 L1535.10,1228.03 L1536.10,1228.31 L1537.10,1228.60 L1538.10,1228.88 L1539.10,1229.16 L1540.10,1229.43 L1541.10,1229.71 L1542.10,1229.98 L1543.10,1230.24 L1544.10,1230.51 L1545.10,1230.77 L1546.10,1231.03 L1547.10,1231.29 L1548.10,1231.54 L1549.10,1231.80 L1550.10,1232.05 L1551.10,1232.29 L1552.10,1232.54 L1553.10,1232.78 L1554.10,1233.03 L1555.10,1233.26 L1556.10,1233.50 L1557.10,1233.74 L1558.10,1233.97 L1559.10,1234.20 L1560.10,1234.43 L1561.10,1234.65 L1562.10,1234.88 L1563.10,1235.10 L1564.10,1235.32 L1565.10,1235.54 L1566.10,1235.75 L1567.10,1235.97 L1568.10,1236.18 L1569.10,1236.39 L1570.10,1236.60 L1571.10,1236.80 L1572.10,1237.01 L1573.10,1237.22 L1574.10,1237.42 L1575.10,1237.62 L1576.10,1237.83 L1577.10,1238.03 L1578.10,1238.23 L1579.10,1238.43 L1580.10,1238.63 L1581.10,1238.82 L1582.10,1239.02 L1583.10,1239.21 L1584.10,1239.40 L1585.10,1239.60 L1586.10,1239.79 L1587.10,1239.97 L1588.10,1240.16 L1589.10,1240.35 L1590.10,1240.53 L1591.10,1240.71 L1592.10,1240.89 L1593.10,1241.07 L1594.10,1241.25 L1595.10,1241.42 L1596.10,1241.60 L1597.10,1241.77 L1598.10,1241.94 L1599.10,1242.10 L1600.10,1242.27 L1601.10,1242.43 L1602.10,1242.59 L1603.10,1242.75 L1604.10,1242.91 L1605.10,1243.07 L1606.10,1243.23 L1607.10,1243.38 L1608.10,1243.54 L1609.10,1243.69 L1610.10,1243.84 L1611.10,1243.99 L1612.10,1244.14 L1613.10,1244.29 L1614.10,1244.44 L1615.10,1244.58 L1616.10,1244.73 L1617.10,1244.87 L1618.10,1245.01 L1619.10,1245.15 L1620.10,1245.29 L1621.10,1245.43 L1622.10,1245.57 L1623.10,1245.71 L1624.10,1245.84 L1625.10,1245.98 L1626.10,1246.11 L1627.10,1246.24 L1628.10,1246.37 L1629.10,1246.50 L1630.10,1246.63 L1631.10,1246.76 L1632.10,1246.88 L1633.10,1247.01 L1634.10,1247.13 L1635.10,1247.26 L1636.10,1247.38 L1637.10,1247.50 L1638.10,1247.62 L1639.10,1247.74 L1640.10,1247.86 L1641.10,1247.98 L1642.10,1248.09 L1643.10,1248.21 L1644.10,1248.32 L1645.10,1248.44 L1646.10,1248.55 L1647.10,1248.66 L1648.10,1248.77 L1649.10,1248.88 L1650.10,1248.99 L1651.10,1249.10 L1652.10,1249.20 L1653.10,1249.31 L1654.10,1249.41 L1655.10,1249.52 L1656.10,1249.62 L1657.10,1249.72 L1658.10,1249.83 L1659.10,1249.93 L1660.10,1250.03 L1661.10,1250.12 L1662.10,1250.22 L1663.10,1250.32 L1664.10,1250.41 L1665.10,1250.51 L1666.10,1250.60 L1667.10,1250.70 L1668.10,1250.79 L1669.10,1250.88 L1670.10,1250.97 L1671.10,1251.06 L1672.10,1251.15 L1673.10,1251.24 L1674.10,1251.33 L1675.10,1251.41 L1676.10,1251.50 L1677.10,1251.58 L1678.10,1251.67 L1679.10,1251.75 L1680.10,1251.83 L1681.10,1251.92 L1682.10,1252.00 L1683.10,1252.08 L1684.10,1252.15 L1685.10,1252.23 L1686.10,1252.31 L1687.10,1252.39 L1688.10,1252.46 L1689.10,1252.54 L1690.10,1252.61 L1691.10,1252.69 L1692.10,1252.76 L1693.10,1252.83 L1694.10,1252.90 L1695.10,1252.97 L1696.10,1253.04 L1697.10,1253.11 L1698.10,1253.18 L1699.10,1253.24 L1700.10,1253.31 L1701.10,1253.37 L1702.10,1253.44 L1703.10,1253.50 L1704.10,1253.57 L1705.10,1253.63 L1706.10,1253.69 L1707.10,1253.75 L1708.10,1253.81 L1709.10,1253.87 L1710.10,1253.93 L1711.10,1253.99 L1712.10,1254.05 L1713.10,1254.10 L1714.10,1254.16 L1715.10,1254.21 L1716.10,1254.27 L1717.10,1254.33 L1718.10,1254.39 L1719.10,1254.46 L1720.10,1254.54 L1721.10,1254.62 L1722.10,1254.70 L1723.10,1254.79 L1724.10,1254.89 L1725.10,1254.99 L1726.10,1255.09 L1727.10,1255.19 L1728.10,1255.30 L1729.10,1255.41 L1730.10,1255.52 L1731.10,1255.63 L1732.10,1255.75 L1733.10,1255.86 L1734.10,1255.98 L1735.10,1256.09 L1736.10,1256.21 L1737.10,1256.32 L1738.10,1256.44 L1739.10,1256.55 L1740.10,1256.66 L1741.10,1256.77 L1742.10,1256.88 L1743.10,1256.98 L1744.10,1257.09 L1745.10,1257.19 L1746.10,1257.28 L1747.10,1257.37 L1748.10,1257.46 L1749.10,1257.54 L1750.10,1257.62 L1751.10,1257.69 L1752.10,1257.75 L1753.10,1257.82 L1754.10,1257.88 L1755.10,1257.94 L1756.10,1257.99 L1757.10,1258.05 L1758.10,1258.11 L1759.10,1258.16 L1760.10,1258.21 L1761.10,1258.26 L1762.10,1258.31 L1763.10,1258.36 L1764.10,1258.41 L1765.10,1258.45 L1766.10,1258.50 L1767.10,1258.54 L1768.10,1258.58 L1769.10,1258.62 L1770.10,1258.66 L1771.10,1258.69 L1772.10,1258.73 L1773.10,1258.76 L1774.10,1258.79 L1775.10,1258.83 L1776.10,1258.86 L1777.10,1258.88 L1778.10,1258.91 L1779.10,1258.94 L1780.10,1258.96 L1781.10,1258.98 L1782.10,1259.00 L1783.10,1259.02 L1784.10,1259.04 L1785.10,1259.06 L1786.10,1259.08 L1787.10,1259.09 L1788.10,1259.10 L1789.10,1259.12 L1790.10,1259.13 L1791.10,1259.13 L1792.10,1259.14 L1793.10,1259.15 L1794.10,1259.15 L1795.10,1259.16 L1796.10,1259.16 L1797.10,1259.16 L1798.10,1259.16 L1799.10,1259.16 L1800.10,1259.16 L1801.10,1259.15 L1802.10,1259.15 L1803.10,1259.14 L1804.10,1259.13 L1805.10,1259.12 L1806.10,1259.11 L1807.10,1259.10 L1808.10,1259.08 L1809.10,1259.06 L1810.10,1259.05 L1811.10,1259.03 L1812.10,1259.00 L1813.10,1258.98 L1814.10,1258.96 L1815.10,1258.93 L1816.10,1258.90 L1817.10,1258.87 L1818.10,1258.84 L1819.10,1258.81 L1820.10,1258.77 L1821.10,1258.73 L1822.10,1258.69 L1823.10,1258.65 L1824.10,1258.61 L1825.10,1258.57 L1826.10,1258.52 L1827.10,1258.47 L1828.10,1258.42 L1829.10,1258.37 L1830.10,1258.31 L1831.10,1258.26 L1832.10,1258.20 L1833.10,1258.14 L1834.10,1258.08 L1835.10,1258.02 L1836.10,1257.96 L1837.10,1257.89 L1838.10,1257.83 L1839.10,1257.76 L1840.10,1257.69 L1841.10,1257.62 L1842.10,1257.55 L1843.10,1257.48 L1844.10,1257.40 L1845.10,1257.33 L1846.10,1257.25 L1847.10,1257.17 L1848.10,1257.09 L1849.10,1257.02 L1850.10,1256.94 L1851.10,1256.85 L1852.10,1256.77 L1853.10,1256.69 L1854.10,1256.61 L1855.10,1256.52 L1856.10,1256.44 L1857.10,1256.35 L1858.10,1256.27 L1859.10,1256.18 L1860.10,1256.09 L1861.10,1256.00 L1862.10,1255.91 L1863.10,1255.82 L1864.10,1255.73 L1865.10,1255.64 L1866.10,1255.54 L1867.10,1255.45 L1868.10,1255.35 L1869.10,1255.25 L1870.10,1255.15 L1871.10,1255.04 L1872.10,1254.93 L1873.10,1254.82 L1874.10,1254.71 L1875.10,1254.58 L1876.10,1254.45 L1877.10,1254.32 L1878.10,1254.17 L1879.10,1254.02 L1880.10,1253.85 L1881.10,1253.68 L1882.10,1253.49 L1883.10,1253.29 L1884.10,1253.09 L1885.10,1252.87 L1886.10,1252.66 L1887.10,1252.46 L1888.10,1252.27 L1889.10,1252.12 L1890.10,1252.01 L1891.10,1251.95 L1892.10,1251.95 L1893.10,1252.01 L1894.10,1252.14 L1895.10,1252.32 L1896.10,1252.53 L1897.10,1252.78 L1898.10,1253.04 L1899.10,1253.30 L1900.10,1253.57 L1901.10,1253.83 L1902.10,1254.08 L1903.10,1254.32 L1904.10,1254.55 L1905.10,1254.76 L1906.10,1254.97 L1907.10,1255.17 L1908.10,1255.36 L1909.10,1255.54 L1910.10,1255.72 L1911.10,1255.89 L1912.10,1256.06 L1913.10,1256.22 L1914.10,1256.38 L1915.10,1256.54 L1916.10,1256.69 L1917.10,1256.85 L1918.10,1257.00 L1919.10,1257.15 L1920.10,1257.30 L1921.10,1257.44 L1922.10,1257.59 L1923.10,1257.74 L1924.10,1257.88 L1925.10,1258.03 L1926.10,1258.17 L1927.10,1258.32 L1928.10,1258.47 L1929.10,1258.61 L1930.10,1258.76 L1931.10,1258.90 L1932.10,1259.05 L1933.10,1259.20 L1934.10,1259.34 L1935.10,1259.49 L1936.10,1259.63 L1937.10,1259.78 L1938.10,1259.92 L1939.10,1260.07 L1940.10,1260.21 L1941.10,1260.35 L1942.10,1260.50 L1943.10,1260.64 L1944.10,1260.78 L1945.10,1260.92 L1946.10,1261.06 L1947.10,1261.20 L1948.10,1261.34 L1949.10,1261.48 L1950.10,1261.61 L1951.10,1261.75 L1952.10,1261.88 L1953.10,1262.02 L1954.10,1262.15 L1955.10,1262.28 L1956.10,1262.41 L1957.10,1262.54 L1958.10,1262.67 L1959.10,1262.80 L1960.10,1262.92 L1961.10,1263.05 L1962.10,1263.17 L1963.10,1263.29 L1964.10,1263.41 L1965.10,1263.53 L1966.10,1263.65 L1967.10,1263.76 L1968.10,1263.88 L1969.10,1263.99 L1970.10,1264.10 L1971.10,1264.21 L1972.10,1264.32 L1973.10,1264.42 L1974.10,1264.53 L1975.10,1264.63 L1976.10,1264.73 L1977.10,1264.84 L1978.10,1264.93 L1979.10,1265.03 L1980.10,1265.13 L1981.10,1265.22 L1982.10,1265.32 L1983.10,1265.41 L1984.10,1265.50 L1985.10,1265.59 L1986.10,1265.68 L1987.10,1265.76 L1988.10,1265.85 L1989.10,1265.93 L1990.10,1266.02 L1991.10,1266.10 L1992.10,1266.18 L1993.10,1266.26 L1994.10,1266.34 L1995.10,1266.41 L1996.10,1266.49 L1997.10,1266.56 L1998.10,1266.64 L1999.10,1266.71 L2000.10,1266.78 L2001.10,1266.85 L2002.10,1266.92 L2003.10,1266.98 L2004.10,1267.04 L2005.10,1267.10 L2006.10,1267.16 L2007.10,1267.22 L2008.10,1267.27 L2009.10,1267.32 L2010.10,1267.37 L2011.10,1267.42 L2012.10,1267.47 L2013.10,1267.51 L2014.10,1267.56 L2015.10,1267.60 L2016.10,1267.64 L2017.10,1267.68 L2018.10,1267.71 L2019.10,1267.75 L2020.10,1267.79 L2021.10,1267.82 L2022.10,1267.85 L2023.10,1267.88 L2024.10,1267.91 L2025.10,1267.94 L2026.10,1267.97 L2027.10,1268.00 L2028.10,1268.02 L2029.10,1268.05 L2030.10,1268.07 L2031.10,1268.10 L2032.10,1268.12 L2033.10,1268.14 L2034.10,1268.17 L2035.10,1268.19 L2036.10,1268.21 L2037.10,1268.23 L2038.10,1268.25 L2039.10,1268.28 L2040.10,1268.30 L2041.10,1268.32 L2042.10,1268.34 L2043.10,1268.35 L2044.10,1268.37 L2045.10,1268.38 L2046.10,1268.40 L2047.10,1268.41 L2048.10,1268.42 L2049.10,1268.43 L2050.10,1268.44 L2051.10,1268.45 L2052.10,1268.46 L2053.10,1268.47 L2054.10,1268.48 L2055.10,1268.49 L2056.10,1268.49 L2057.10,1268.50 L2058.10,1268.51 L2059.10,1268.51 L2060.10,1268.52 L2061.10,1268.52 L2062.10,1268.53 L2063.10,1268.53 L2064.10,1268.54 L2065.10,1268.55 L2066.10,1268.55 L2067.10,1268.56 L2068.10,1268.57 L2069.10,1268.57 L2070.10,1268.58 L2071.10,1268.59 L2072.10,1268.60 L2073.10,1268.60 L2074.10,1268.61 L2075.10,1268.61 L2076.10,1268.61 L2077.10,1268.61 L2078.10,1268.62 L2079.10,1268.62 L2080.10,1268.62 L2081.10,1268.62 L2082.10,1268.62 L2083.10,1268.62 L2084.10,1268.62 L2085.10,1268.62 L2086.10,1268.62 L2087.10,1268.61 L2088.10,1268.61 L2089.10,1268.62 L2090.10,1268.62 L2091.10,1268.62 L2092.10,1268.62 L2093.10,1268.62 L2094.10,1268.62 L2095.10,1268.63 L2096.10,1268.63 L2097.10,1268.64 L2098.10,1268.64 L2099.10,1268.65 L2100.10,1268.66 L2101.10,1268.67 L2102.10,1268.68 L2103.10,1268.70 L2104.10,1268.71 L2105.10,1268.73 L2106.10,1268.75 L2107.10,1268.77 L2108.10,1268.79 L2109.10,1268.81 L2110.10,1268.84 L2111.10,1268.86 L2112.10,1268.89 L2113.10,1268.92 L2114.10,1268.94 L2115.10,1268.97 L2116.10,1268.99 L2117.10,1269.02 L2118.10,1269.04 L2119.10,1269.07 L2120.10,1269.09 L2121.10,1269.12 L2122.10,1269.14 L2123.10,1269.17 L2124.10,1269.19 L2125.10,1269.21 L2126.10,1269.24 L2127.10,1269.26 L2128.10,1269.29 L2129.10,1269.31 L2130.10,1269.33 L2131.10,1269.36 L2132.10,1269.38 L2133.10,1269.40 L2134.10,1269.42 L2135.10,1269.45 L2136.10,1269.47 L2137.10,1269.49 L2138.10,1269.51 L2139.10,1269.53 L2140.10,1269.56 L2141.10,1269.58 L2142.10,1269.60 L2143.10,1269.62 L2144.10,1269.64 L2145.10,1269.66 L2146.10,1269.68 L2147.10,1269.70 L2148.10,1269.72 L2149.10,1269.75 L2150.10,1269.77 L2151.10,1269.79 L2152.10,1269.81 L2153.10,1269.83 L2154.10,1269.85 L2155.10,1269.87 L2156.10,1269.89 L2157.10,1269.91 L2158.10,1269.92 L2159.10,1269.94 L2160.10,1269.96 L2161.10,1269.98 L2162.10,1270.00 L2163.10,1270.02 L2164.10,1270.04 L2165.10,1270.06 L2166.10,1270.08 L2167.10,1270.09 L2168.10,1270.11 L2169.10,1270.13 L2170.10,1270.15 L2171.10,1270.17 L2172.10,1270.19 L2173.10,1270.20 L2174.10,1270.22 L2175.10,1270.24 L2176.10,1270.26 L2177.10,1270.27 L2178.10,1270.29 L2179.10,1270.31 L2180.10,1270.33 L2181.10,1270.34 L2182.10,1270.36 L2183.10,1270.38 L2184.10,1270.39 L2185.10,1270.41 L2186.10,1270.43 L2187.10,1270.44 L2188.10,1270.46 L2189.10,1270.48 L2190.10,1270.49 L2191.10,1270.51 L2192.10,1270.53 L2193.10,1270.54 L2194.10,1270.56 L2195.10,1270.57 L2196.10,1270.59 L2197.10,1270.60 L2198.10,1270.62 L2199.10,1270.64 L2200.10,1270.65 L2201.10,1270.67 L2202.10,1270.68 L2203.10,1270.70 L2204.10,1270.71 L2205.10,1270.73 L2206.10,1270.74 L2207.10,1270.76 L2208.10,1270.77 L2209.10,1270.79 L2210.10,1270.80 L2211.10,1270.82 L2212.10,1270.83 L2213.10,1270.85 L2214.10,1270.86 L2215.10,1270.88 L2216.10,1270.89 L2217.10,1270.90 L2218.10,1270.92 L2219.10,1270.93 L2220.10,1270.95 L2221.10,1270.96 L2222.10,1270.97 L2223.10,1270.99 L2224.10,1271.00 L2225.10,1271.02 L2226.10,1271.03 L2227.10,1271.04 L2228.10,1271.06 L2229.10,1271.07 L2230.10,1271.08 L2231.10,1271.10 L2232.10,1271.11 L2233.10,1271.12 L2234.10,1271.14 L2235.10,1271.15 L2236.10,1271.16 L2237.10,1271.18 L2238.10,1271.19 L2239.10,1271.20 L2240.10,1271.22 L2241.10,1271.23 L2242.10,1271.24 L2243.10,1271.25 L2244.10,1271.27 L2245.10,1271.28 L2246.10,1271.29 L2247.10,1271.30 L2248.10,1271.32 L2249.10,1271.33 L2250.10,1271.34 L2251.10,1271.35 L2252.10,1271.37 L2253.10,1271.38 L2254.10,1271.39 L2255.10,1271.40 L2256.10,1271.41 L2257.10,1271.43 L2258.10,1271.44 L2259.10,1271.45 L2260.10,1271.46 L2261.10,1271.47 L2262.10,1271.49 L2263.10,1271.50 L2264.10,1271.51"/>
<path stroke="#d95319" stroke-width="5.20" d="M159.10,1272.93 L160.10,1272.91 L161.10,1272.90 L162.10,1272.89 L163.10,1272.88 L164.10,1272.87 L165.10,1272.86 L166.10,1272.85 L167.10,1272.83 L168.10,1272.82 L169.10,1272.81 L170.10,1272.80 L171.10,1272.79 L172.10,1272.78 L173.10,1272.76 L174.10,1272.75 L175.10,1272.74 L176.10,1272.73 L177.10,1272.72 L178.10,1272.70 L179.10,1272.69 L180.10,1272.68 L181.10,1272.67 L182.10,1272.65 L183.10,1272.64 L184.10,1272.63 L185.10,1272.61 L186.10,1272.60 L187.10,1272.59 L188.10,1272.58 L189.10,1272.56 L190.10,1272.55 L191.10,1272.54 L192.10,1272.52 L193.10,1272.51 L194.10,1272.50 L195.10,1272.48 L196.10,1272.47 L197.10,1272.46 L198.10,1272.44 L199.10,1272.43 L200.10,1272.41 L201.10,1272.40 L202.10,1272.39 L203.10,1272.37 L204.10,1272.36 L205.10,1272.34 L206.10,1272.33 L207.10,1272.31 L208.10,1272.30 L209.10,1272.28 L210.10,1272.27 L211.10,1272.25 L212.10,1272.24 L213.10,1272.22 L214.10,1272.21 L215.10,1272.19 L216.10,1272.18 L217.10,1272.16 L218.10,1272.15 L219.10,1272.13 L220.10,1272.12 L221.10,1272.10 L222.10,1272.08 L223.10,1272.07 L224.10,1272.05 L225.10,1272.03 L226.10,1272.02 L227.10,1272.00 L228.10,1271.99 L229.10,1271.97 L230.10,1271.95 L231.10,1271.93 L232.10,1271.92 L233.10,1271.90 L234.10,1271.88 L235.10,1271.86 L236.10,1271.85 L237.10,1271.83 L238.10,1271.81 L239.10,1271.79 L240.10,1271.77 L241.10,1271.76 L242.10,1271.74 L243.10,1271.72 L244.10,1271.70 L245.10,1271.68 L246.10,1271.66 L247.10,1271.64 L248.10,1271.62 L249.10,1271.60 L250.10,1271.58 L251.10,1271.56 L252.10,1271.54 L253.10,1271.52 L254.10,1271.50 L255.10,1271.48 L256.10,1271.46 L257.10,1271.44 L258.10,1271.42 L259.10,1271.40 L260.10,1271.38 L261.10,1271.36 L262.10,1271.34 L263.10,1271.31 L264.10,1271.29 L265.10,1271.27 L266.10,1271.25 L267.10,1271.22 L268.10,1271.20 L269.10,1271.18 L270.10,1271.16 L271.10,1271.13 L272.10,1271.11 L273.10,1271.08 L274.10,1271.06 L275.10,1271.04 L276.10,1271.01 L277.10,1270.99 L278.10,1270.96 L279.10,1270.94 L280.10,1270.91 L281.10,1270.89 L282.10,1270.86 L283.10,1270.83 L284.10,1270.81 L285.10,1270.78 L286.10,1270.75 L287.10,1270.73 L288.10,1270.70 L289.10,1270.67 L290.10,1270.64 L291.10,1270.62 L292.10,1270.59 L293.10,1270.56 L294.10,1270.53 L295.10,1270.50 L296.10,1270.47 L297.10,1270.44 L298.10,1270.41 L299.10,1270.38 L300.10,1270.35 L301.10,1270.32 L302.10,1270.29 L303.10,1270.25 L304.10,1270.22 L305.10,1270.19 L306.10,1270.16 L307.10,1270.12 L308.10,1270.09 L309.10,1270.06 L310.10,1270.02 L311.10,1269.99 L312.10,1269.95 L313.10,1269.92 L314.10,1269.88 L315.10,1269.84 L316.10,1269.81 L317.10,1269.77 L318.10,1269.73 L319.10,1269.69 L320.10,1269.66 L321.10,1269.62 L322.10,1269.58 L323.10,1269.54 L324.10,1269.50 L325.10,1269.46 L326.10,1269.42 L327.10,1269.38 L328.10,1269.33 L329.10,1269.29 L330.10,1269.25 L331.10,1269.20 L332.10,1269.16 L333.10,1269.12 L334.10,1269.07 L335.10,1269.02 L336.10,1268.98 L337.10,1268.93 L338.10,1268.88 L339.10,1268.84 L340.10,1268.79 L341.10,1268.74 L342.10,1268.69 L343.10,1268.64 L344.10,1268.59 L345.10,1268.54 L346.10,1268.48 L347.10,1268.43 L348.10,1268.38 L349.10,1268.32 L350.10,1268.27 L351.10,1268.21 L352.10,1268.16 L353.10,1268.10 L354.10,1268.04 L355.10,1267.98 L356.10,1267.92 L357.10,1267.86 L358.10,1267.80 L359.10,1267.74 L360.10,1267.68 L361.10,1267.61 L362.10,1267.55 L363.10,1267.48 L364.10,1267.42 L365.10,1267.35 L366.10,1267.29 L367.10,1267.22 L368.10,1267.15 L369.10,1267.08 L370.10,1267.01 L371.10,1266.94 L372.10,1266.86 L373.10,1266.79 L374.10,1266.71 L375.10,1266.64 L376.10,1266.56 L377.10,1266.49 L378.10,1266.41 L379.10,1266.33 L380.10,1266.25 L381.10,1266.17 L382.10,1266.08 L383.10,1266.00 L384.10,1265.92 L385.10,1265.83 L386.10,1265.75 L387.10,1265.66 L388.10,1265.57 L389.10,1265.48 L390.10,1265.39 L391.10,1265.30 L392.10,1265.21 L393.10,1265.12 L394.10,1265.02 L395.10,1264.93 L396.10,1264.83 L397.10,1264.74 L398.10,1264.64 L399.10,1264.54 L400.10,1264.44 L401.10,1264.34 L402.10,1264.24 L403.10,1264.14 L404.10,1264.04 L405.10,1263.93 L406.10,1263.83 L407.10,1263.72 L408.10,1263.62 L409.10,1263.51 L410.10,1263.41 L411.10,1263.30 L412.10,1263.19 L413.10,1263.09 L414.10,1262.98 L415.10,1262.87 L416.10,1262.76 L417.10,1262.65 L418.10,1262.54 L419.10,1262.43 L420.10,1262.33 L421.10,1262.22 L422.10,1262.11 L423.10,1262.00 L424.10,1261.89 L425.10,1261.78 L426.10,1261.68 L427.10,1261.57 L428.10,1261.46 L429.10,1261.36 L430.10,1261.26 L431.10,1261.15 L432.10,1261.05 L433.10,1260.95 L434.10,1260.85 L435.10,1260.75 L436.10,1260.66 L437.10,1260.56 L438.10,1260.47 L439.10,1260.38 L440.10,1260.29 L441.10,1260.20 L442.10,1260.12 L443.10,1260.03 L444.10,1259.95 L445.10,1259.88 L446.10,1259.80 L447.10,1259.73 L448.10,1259.66 L449.10,1259.59 L450.10,1259.53 L451.10,1259.47 L452.10,1259.41 L453.10,1259.36 L454.10,1259.31 L455.10,1259.26 L456.10,1259.22 L457.10,1259.18 L458.10,1259.14 L459.10,1259.11 L460.10,1259.08 L461.10,1259.05 L462.10,1259.03 L463.10,1259.01 L464.10,1259.00 L465.10,1258.99 L466.10,1258.98 L467.10,1258.98 L468.10,1258.98 L469.10,1258.98 L470.10,1258.99 L471.10,1259.00 L472.10,1259.01 L473.10,1259.03 L474.10,1259.05 L475.10,1259.07 L476.10,1259.10 L477.10,1259.13 L478.10,1259.16 L479.10,1259.20 L480.10,1259.24 L481.10,1259.28 L482.10,1259.32 L483.10,1259.37 L484.10,1259.42 L485.10,1259.47 L486.10,1259.52 L487.10,1259.58 L488.10,1259.63 L489.10,1259.69 L490.10,1259.76 L491.10,1259.82 L492.10,1259.88 L493.10,1259.95 L494.10,1260.01 L495.10,1260.08 L496.10,1260.15 L497.10,1260.22 L498.10,1260.29 L499.10,1260.36 L500.10,1260.44 L501.10,1260.51 L502.10,1260.58 L503.10,1260.65 L504.10,1260.73 L505.10,1260.80 L506.10,1260.88 L507.10,1260.95 L508.10,1261.03 L509.10,1261.10 L510.10,1261.17 L511.10,1261.25 L512.10,1261.32 L513.10,1261.39 L514.10,1261.47 L515.10,1261.54 L516.10,1261.61 L517.10,1261.68 L518.10,1261.75 L519.10,1261.82 L520.10,1261.89 L521.10,1261.96 L522.10,1262.03 L523.10,1262.10 L524.10,1262.16 L525.10,1262.23 L526.10,1262.29 L527.10,1262.36 L528.10,1262.42 L529.10,1262.48 L530.10,1262.54 L531.10,1262.60 L532.10,1262.66 L533.10,1262.72 L534.10,1262.78 L535.10,1262.83 L536.10,1262.89 L537.10,1262.94 L538.10,1262.99 L539.10,1263.05 L540.10,1263.10 L541.10,1263.15 L542.10,1263.20 L543.10,1263.24 L544.10,1263.29 L545.10,1263.34 L546.10,1263.38 L547.10,1263.42 L548.10,1263.47 L549.10,1263.51 L550.10,1263.55 L551.10,1263.59 L552.10,1263.63 L553.10,1263.67 L554.10,1263.70 L555.10,1263.74 L556.10,1263.77 L557.10,1263.81 L558.10,1263.84 L559.10,1263.87 L560.10,1263.90 L561.10,1263.94 L562.10,1263.96 L563.10,1263.99 L564.10,1264.02 L565.10,1264.05 L566.10,1264.07 L567.10,1264.10 L568.10,1264.12 L569.10,1264.15 L570.10,1264.17 L571.10,1264.19 L572.10,1264.21 L573.10,1264.23 L574.10,1264.25 L575.10,1264.27 L576.10,1264.29 L577.10,1264.30 L578.10,1264.32 L579.10,1264.33 L580.10,1264.35 L581.10,1264.36 L582.10,1264.38 L583.10,1264.39 L584.10,1264.40 L585.10,1264.41 L586.10,1264.42 L587.10,1264.43 L588.10,1264.44 L589.10,1264.45 L590.10,1264.46 L591.10,1264.46 L592.10,1264.47 L593.10,1264.48 L594.10,1264.48 L595.10,1264.49 L596.10,1264.49 L597.10,1264.49 L598.10,1264.50 L599.10,1264.50 L600.10,1264.50 L601.10,1264.50 L602.10,1264.50 L603.10,1264.50 L604.10,1264.50 L605.10,1264.50 L606.10,1264.50 L607.10,1264.50 L608.10,1264.49 L609.10,1264.49 L610.10,1264.49 L611.10,1264.48 L612.10,1264.48 L613.10,1264.47 L614.10,1264.47 L615.10,1264.46 L616.10,1264.46 L617.10,1264.45 L618.10,1264.44 L619.10,1264.43 L620.10,1264.42 L621.10,1264.41 L622.10,1264.41 L623.10,1264.40 L624.10,1264.39 L625.10,1264.37 L626.10,1264.36 L627.10,1264.35 L628.10,1264.34 L629.10,1264.33 L630.10,1264.31 L631.10,1264.30 L632.10,1264.29 L633.10,1264.27 L634.10,1264.26 L635.10,1264.24 L636.10,1264.23 L637.10,1264.21 L638.10,1264.20 L639.10,1264.18 L640.10,1264.16 L641.10,1264.15 L642.10,1264.13 L643.10,1264.11 L644.10,1264.09 L645.10,1264.07 L646.10,1264.05 L647.10,1264.03 L648.10,1264.01 L649.10,1263.99 L650.10,1263.97 L651.10,1263.95 L652.10,1263.93 L653.10,1263.91 L654.10,1263.89 L655.10,1263.86 L656.10,1263.84 L657.10,1263.82 L658.10,1263.79 L659.10,1263.77 L660.10,1263.75 L661.10,1263.72 L662.10,1263.70 L663.10,1263.67 L664.10,1263.65 L665.10,1263.62 L666.10,1263.60 L667.10,1263.57 L668.10,1263.54 L669.10,1263.51 L670.10,1263.49 L671.10,1263.46 L672.10,1263.43 L673.10,1263.40 L674.10,1263.37 L675.10,1263.34 L676.10,1263.32 L677.10,1263.29 L678.10,1263.26 L679.10,1263.22 L680.10,1263.19 L681.10,1263.16 L682.10,1263.13 L683.10,1263.10 L684.10,1263.07 L685.10,1263.04 L686.10,1263.00 L687.10,1262.97 L688.10,1262.94 L689.10,1262.90 L690.10,1262.87 L691.10,1262.83 L692.10,1262.80 L693.10,1262.77 L694.10,1262.73 L695.10,1262.69 L696.10,1262.66 L697.10,1262.62 L698.10,1262.59 L699.10,1262.55 L700.10,1262.51 L701.10,1262.47 L702.10,1262.44 L703.10,1262.40 L704.10,1262.36 L705.10,1262.32 L706.10,1262.28 L707.10,1262.24 L708.10,1262.20 L709.10,1262.16 L710.10,1262.12 L711.10,1262.08 L712.10,1262.04 L713.10,1262.00 L714.10,1261.96 L715.10,1261.92 L716.10,1261.87 L717.10,1261.83 L718.10,1261.79 L719.10,1261.74 L720.10,1261.70 L721.10,1261.66 L722.10,1261.61 L723.10,1261.57 L724.10,1261.52 L725.10,1261.48 L726.10,1261.43 L727.10,1261.39 L728.10,1261.34 L729.10,1261.29 L730.10,1261.25 L731.10,1261.20 L732.10,1261.15 L733.10,1261.10 L734.10,1261.05 L735.10,1261.01 L736.10,1260.96 L737.10,1260.91 L738.10,1260.86 L739.10,1260.81 L740.10,1260.76 L741.10,1260.71 L742.10,1260.66 L743.10,1260.60 L744.10,1260.55 L745.10,1260.50 L746.10,1260.45 L747.10,1260.39 L748.10,1260.34 L749.10,1260.29 L750.10,1260.23 L751.10,1260.18 L752.10,1260.12 L753.10,1260.07 L754.10,1260.01 L755.10,1259.96 L756.10,1259.90 L757.10,1259.84 L758.10,1259.79 L759.10,1259.73 L760.10,1259.67 L761.10,1259.61 L762.10,1259.55 L763.10,1259.49 L764.10,1259.44 L765.10,1259.38 L766.10,1259.31 L767.10,1259.25 L768.10,1259.19 L769.10,1259.13 L770.10,1259.07 L771.10,1259.01 L772.10,1258.94 L773.10,1258.88 L774.10,1258.82 L775.10,1258.75 L776.10,1258.69 L777.10,1258.62 L778.10,1258.56 L779.10,1258.49 L780.10,1258.43 L781.10,1258.36 L782.10,1258.29 L783.10,1258.22 L784.10,1258.16 L785.10,1258.09 L786.10,1258.02 L787.10,1257.95 L788.10,1257.88 L789.10,1257.81 L790.10,1257.74 L791.10,1257.67 L792.10,1257.60 L793.10,1257.52 L794.10,1257.45 L795.10,1257.38 L796.10,1257.30 L797.10,1257.23 L798.10,1257.15 L799.10,1257.08 L800.10,1257.00 L801.10,1256.93 L802.10,1256.85 L803.10,1256.77 L804.10,1256.70 L805.10,1256.62 L806.10,1256.54 L807.10,1256.46 L808.10,1256.38 L809.10,1256.30 L810.10,1256.22 L811.10,1256.14 L812.10,1256.05 L813.10,1255.97 L814.10,1255.89 L815.10,1255.80 L816.10,1255.72 L817.10,1255.63 L818.10,1255.55 L819.10,1255.46 L820.10,1255.38 L821.10,1255.29 L822.10,1255.20 L823.10,1255.11 L824.10,1255.02 L825.10,1254.93 L826.10,1254.84 L827.10,1254.75 L828.10,1254.66 L829.10,1254.57 L830.10,1254.47 L831.10,1254.38 L832.10,1254.29 L833.10,1254.19 L834.10,1254.10 L835.10,1254.00 L836.10,1253.90 L837.10,1253.81 L838.10,1253.71 L839.10,1253.61 L840.10,1253.51 L841.10,1253.41 L842.10,1253.31 L843.10,1253.21 L844.10,1253.10 L845.10,1253.00 L846.10,1252.90 L847.10,1252.79 L848.10,1252.69 L849.10,1252.58 L850.10,1252.47 L851.10,1252.37 L852.10,1252.26 L853.10,1252.15 L854.10,1252.04 L855.10,1251.93 L856.10,1251.82 L857.10,1251.70 L858.10,1251.59 L859.10,1251.48 L860.10,1251.36 L861.10,1251.24 L862.10,1251.13 L863.10,1251.01 L864.10,1250.89 L865.10,1250.77 L866.10,1250.65 L867.10,1250.53 L868.10,1250.41 L869.10,1250.29 L870.10,1250.16 L871.10,1250.04 L872.10,1249.91 L873.10,1249.79 L874.10,1249.66 L875.10,1249.53 L876.10,1249.40 L877.10,1249.27 L878.10,1249.14 L879.10,1249.01 L880.10,1248.87 L881.10,1248.74 L882.10,1248.60 L883.10,1248.47 L884.10,1248.33 L885.10,1248.19 L886.10,1248.05 L887.10,1247.91 L888.10,1247.77 L889.10,1247.63 L890.10,1247.48 L891.10,1247.34 L892.10,1247.19 L893.10,1247.05 L894.10,1246.90 L895.10,1246.75 L896.10,1246.60 L897.10,1246.44 L898.10,1246.29 L899.10,1246.14 L900.10,1245.98 L901.10,1245.82 L902.10,1245.67 L903.10,1245.51 L904.10,1245.35 L905.10,1245.18 L906.10,1245.02 L907.10,1244.86 L908.10,1244.69 L909.10,1244.52 L910.10,1244.35 L911.10,1244.18 L912.10,1244.01 L913.10,1243.84 L914.10,1243.66 L915.10,1243.49 L916.10,1243.31 L917.10,1243.13 L918.10,1242.95 L919.10,1242.77 L920.10,1242.59 L921.10,1242.40 L922.10,1242.22 L923.10,1242.03 L924.10,1241.84 L925.10,1241.65 L926.10,1241.46 L927.10,1241.26 L928.10,1241.07 L929.10,1240.87 L930.10,1240.67 L931.10,1240.47 L932.10,1240.27 L933.10,1240.06 L934.10,1239.85 L935.10,1239.65 L936.10,1239.44 L937.10,1239.22 L938.10,1239.01 L939.10,1238.80 L940.10,1238.58 L941.10,1238.36 L942.10,1238.14 L943.10,1237.91 L944.10,1237.69 L945.10,1237.46 L946.10,1237.23 L947.10,1237.00 L948.10,1236.77 L949.10,1236.53 L950.10,1236.30 L951.10,1236.06 L952.10,1235.81 L953.10,1235.57 L954.10,1235.32 L955.10,1235.07 L956.10,1234.82 L957.10,1234.57 L958.10,1234.31 L959.10,1234.06 L960.10,1233.80 L961.10,1233.53 L962.10,1233.27 L963.10,1233.00 L964.10,1232.73 L965.10,1232.46 L966.10,1232.18 L967.10,1231.90 L968.10,1231.62 L969.10,1231.34 L970.10,1231.05 L971.10,1230.76 L972.10,1230.47 L973.10,1230.18 L974.10,1229.88 L975.10,1229.58 L976.10,1229.28 L977.10,1228.97 L978.10,1228.66 L979.10,1228.35 L980.10,1228.03 L981.10,1227.71 L982.10,1227.39 L983.10,1227.07 L984.10,1226.74 L985.10,1226.41 L986.10,1226.07 L987.10,1225.73 L988.10,1225.39 L989.10,1225.05 L990.10,1224.70 L991.10,1224.35 L992.10,1223.99 L993.10,1223.63 L994.10,1223.27 L995.10,1222.90 L996.10,1222.53 L997.10,1222.16 L998.10,1221.78 L999.10,1221.39 L1000.10,1221.01 L1001.10,1220.62 L1002.10,1220.22 L1003.10,1219.82 L1004.10,1219.42 L1005.10,1219.01 L1006.10,1218.60 L1007.10,1218.18 L1008.10,1217.76 L1009.10,1217.34 L1010.10,1216.91 L1011.10,1216.47 L1012.10,1216.03 L1013.10,1215.59 L1014.10,1215.14 L1015.10,1214.68 L1016.10,1214.23 L1017.10,1213.76 L1018.10,1213.29 L1019.10,1212.82 L1020.10,1212.34 L1021.10,1211.85 L1022.10,1211.36 L1023.10,1210.86 L1024.10,1210.36 L1025.10,1209.85 L1026.10,1209.34 L1027.10,1208.82 L1028.10,1208.29 L1029.10,1207.76 L1030.10,1207.22 L1031.10,1206.68 L1032.10,1206.13 L1033.10,1205.57 L1034.10,1205.01 L1035.10,1204.44 L1036.10,1203.86 L1037.10,1203.28 L1038.10,1202.69 L1039.10,1202.09 L1040.10,1201.48 L1041.10,1200.87 L1042.10,1200.25 L1043.10,1199.62 L1044.10,1198.99 L1045.10,1198.35 L1046.10,1197.70 L1047.10,1197.04 L1048.10,1196.37 L1049.10,1195.70 L1050.10,1195.01 L1051.10,1194.32 L1052.10,1193.62 L1053.10,1192.91 L1054.10,1192.20 L1055.10,1191.47 L1056.10,1190.73 L1057.10,1189.99 L1058.10,1189.23 L1059.10,1188.47 L1060.10,1187.69 L1061.10,1186.91 L1062.10,1186.12 L1063.10,1185.31 L1064.10,1184.50 L1065.10,1183.67 L1066.10,1182.83 L1067.10,1181.99 L1068.10,1181.13 L1069.10,1180.26 L1070.10,1179.38 L1071.10,1178.48 L1072.10,1177.58 L1073.10,1176.66 L1074.10,1175.73 L1075.10,1174.79 L1076.10,1173.84 L1077.10,1172.87 L1078.10,1171.89 L1079.10,1170.90 L1080.10,1169.89 L1081.10,1168.87 L1082.10,1167.83 L1083.10,1166.78 L1084.10,1165.72 L1085.10,1164.64 L1086.10,1163.55 L1087.10,1162.44 L1088.10,1161.31 L1089.10,1160.17 L1090.10,1159.02 L1091.10,1157.85 L1092.10,1156.66 L1093.10,1155.45 L1094.10,1154.23 L1095.10,1152.99 L1096.10,1151.73 L1097.10,1150.45 L1098.10,1149.16 L1099.10,1147.85 L1100.10,1146.51 L1101.10,1145.16 L1102.10,1143.79 L1103.10,1142.40 L1104.10,1140.99 L1105.10,1139.56 L1106.10,1138.10 L1107.10,1136.63 L1108.10,1135.13 L1109.10,1133.62 L1110.10,1132.07 L1111.10,1130.51 L1112.10,1128.92 L1113.10,1127.31 L1114.10,1125.68 L1115.10,1124.02 L1116.10,1122.34 L1117.10,1120.63 L1118.10,1118.89 L1119.10,1117.13 L1120.10,1115.35 L1121.10,1113.53 L1122.10,1111.69 L1123.10,1109.82 L1124.10,1107.92 L1125.10,1106.00 L1126.10,1104.04 L1127.10,1102.06 L1128.10,1100.04 L1129.10,1097.99 L1130.10,1095.92 L1131.10,1093.81 L1132.10,1091.67 L1133.10,1089.49 L1134.10,1087.28 L1135.10,1085.04 L1136.10,1082.77 L1137.10,1080.46 L1138.10,1078.11 L1139.10,1075.73 L1140.10,1073.32 L1141.10,1070.86 L1142.10,1068.37 L1143.10,1065.84 L1144.10,1063.27 L1145.10,1060.67 L1146.10,1058.02 L1147.10,1055.34 L1148.10,1052.61 L1149.10,1049.85 L1150.10,1047.04 L1151.10,1044.19 L1152.10,1041.30 L1153.10,1038.37 L1154.10,1035.39 L1155.10,1032.37 L1156.10,1029.30 L1157.10,1026.19 L1158.10,1023.04 L1159.10,1019.84 L1160.10,1016.59 L1161.10,1013.30 L1162.10,1009.96 L1163.10,1006.58 L1164.10,1003.15 L1165.10,999.67 L1166.10,996.14 L1167.10,992.57 L1168.10,988.95 L1169.10,985.28 L1170.10,981.57 L1171.10,977.80 L1172.10,973.99 L1173.10,970.13 L1174.10,966.22 L1175.10,962.27 L1176.10,958.27 L1177.10,954.22 L1178.10,950.12 L1179.10,945.98 L1180.00,942.22 L1180.10,941.80 L1180.25,941.16 L1180.50,940.11 L1180.75,939.05 L1181.00,937.99 L1181.10,937.56 L1181.25,936.93 L1181.50,935.86 L1181.75,934.79 L1182.00,933.72 L1182.10,933.29 L1182.25,932.64 L1182.50,931.57 L1182.75,930.49 L1183.00,929.40 L1183.10,928.97 L1183.25,928.32 L1183.50,927.23 L1183.75,926.14 L1184.00,925.04 L1184.10,924.61 L1184.25,923.95 L1184.50,922.85 L1184.75,921.75 L1185.00,920.64 L1185.10,920.20 L1185.25,919.54 L1185.50,918.43 L1185.75,917.32 L1186.00,916.20 L1186.10,915.75 L1186.25,915.08 L1186.50,913.96 L1186.75,912.84 L1187.00,911.72 L1187.10,911.27 L1187.25,910.59 L1187.50,909.46 L1187.75,908.33 L1188.00,907.20 L1188.10,906.74 L1188.25,906.06 L1188.50,904.92 L1188.75,903.78 L1189.00,902.64 L1189.10,902.18 L1189.25,901.49 L1189.50,900.35 L1189.75,899.20 L1190.00,898.04 L1190.10,897.58 L1190.25,896.89 L1190.50,895.73 L1190.75,894.57 L1191.00,893.41 L1191.10,892.95 L1191.25,892.25 L1191.50,891.09 L1191.75,889.92 L1192.00,888.75 L1192.10,888.28 L1192.25,887.58 L1192.50,886.41 L1192.75,885.23 L1193.00,884.06 L1193.10,883.59 L1193.25,882.88 L1193.50,881.70 L1193.75,880.52 L1194.00,879.33 L1194.10,878.86 L1194.25,878.15 L1194.50,876.96 L1194.75,875.77 L1195.00,874.58 L1195.10,874.10 L1195.25,873.39 L1195.50,872.19 L1195.75,871.00 L1196.00,869.80 L1196.10,869.32 L1196.25,868.60 L1196.50,867.40 L1196.75,866.20 L1197.00,865.00 L1197.10,864.52 L1197.25,863.79 L1197.50,862.59 L1197.75,861.38 L1198.00,860.18 L1198.10,859.69 L1198.25,858.97 L1198.50,857.76 L1198.75,856.55 L1199.00,855.33 L1199.10,854.85 L1199.25,854.12 L1199.50,852.91 L1199.75,851.69 L1200.00,850.47 L1200.10,849.99 L1200.25,849.26 L1200.50,848.04 L1200.75,846.82 L1201.00,845.60 L1201.10,845.11 L1201.25,844.38 L1201.50,843.16 L1201.75,841.94 L1202.00,840.72 L1202.10,840.23 L1202.25,839.50 L1202.50,838.27 L1202.75,837.05 L1203.00,835.83 L1203.10,835.34 L1203.25,834.60 L1203.50,833.38 L1203.75,832.15 L1204.00,830.93 L1204.10,830.44 L1204.25,829.70 L1204.50,828.48 L1204.75,827.25 L1205.00,826.03 L1205.10,825.54 L1205.25,824.80 L1205.50,823.58 L1205.75,822.36 L1206.00,821.13 L1206.10,820.64 L1206.25,819.91 L1206.50,818.68 L1206.75,817.46 L1207.00,816.24 L1207.10,815.75 L1207.25,815.02 L1207.50,813.80 L1207.75,812.57 L1208.00,811.35 L1208.10,810.87 L1208.25,810.14 L1208.50,808.92 L1208.75,807.70 L1209.00,806.48 L1209.10,806.00 L1209.25,805.27 L1209.50,804.05 L1209.75,802.84 L1210.00,801.63 L1210.10,801.14 L1210.25,800.41 L1210.50,799.20 L1210.75,798.00 L1211.00,796.79 L1211.10,796.31 L1211.25,795.58 L1211.50,794.38 L1211.75,793.18 L1212.00,791.98 L1212.10,791.50 L1212.25,790.78 L1212.50,789.58 L1212.75,788.38 L1213.00,787.19 L1213.10,786.71 L1213.25,786.00 L1213.50,784.81 L1213.75,783.62 L1214.00,782.44 L1214.10,781.96 L1214.25,781.25 L1214.50,780.07 L1214.75,778.90 L1215.00,777.72 L1215.10,777.25 L1215.25,776.55 L1215.50,775.38 L1215.75,774.21 L1216.00,773.05 L1216.10,772.58 L1216.25,771.88 L1216.50,770.72 L1216.75,769.57 L1217.00,768.42 L1217.10,767.96 L1217.25,767.27 L1217.50,766.12 L1217.75,764.98 L1218.00,763.84 L1218.10,763.38 L1218.25,762.70 L1218.50,761.57 L1218.75,760.44 L1219.00,759.31 L1219.10,758.86 L1219.25,758.19 L1219.50,757.07 L1219.75,755.96 L1220.00,754.85 L1220.10,754.40 L1220.25,753.74 L1220.50,752.64 L1220.75,751.54 L1221.00,750.44 L1221.10,750.01 L1221.25,749.35 L1221.50,748.27 L1221.75,747.19 L1222.00,746.11 L1222.10,745.68 L1222.25,745.04 L1222.50,743.97 L1222.75,742.91 L1223.00,741.85 L1223.10,741.43 L1223.25,740.80 L1223.50,739.75 L1223.75,738.71 L1224.00,737.67 L1224.10,737.26 L1224.25,736.64 L1224.50,735.62 L1224.75,734.59 L1225.00,733.58 L1225.10,733.17 L1225.25,732.57 L1225.50,731.56 L1225.75,730.57 L1226.00,729.57 L1226.10,729.18 L1226.25,728.58 L1226.50,727.60 L1226.75,726.63 L1227.00,725.66 L1227.10,725.27 L1227.25,724.70 L1227.50,723.74 L1227.75,722.79 L1228.00,721.84 L1228.10,721.47 L1228.25,720.91 L1228.50,719.98 L1228.75,719.05 L1229.00,718.13 L1229.10,717.77 L1229.25,717.22 L1229.50,716.32 L1229.75,715.42 L1230.00,714.53 L1230.10,714.18 L1230.25,713.65 L1230.50,712.77 L1230.75,711.90 L1231.00,711.04 L1231.10,710.70 L1231.25,710.19 L1231.50,709.34 L1231.75,708.50 L1232.00,707.67 L1232.10,707.34 L1232.25,706.84 L1232.50,706.03 L1232.75,705.22 L1233.00,704.42 L1233.10,704.10 L1233.25,703.62 L1233.50,702.84 L1233.75,702.06 L1234.00,701.29 L1234.10,700.99 L1234.25,700.53 L1234.50,699.78 L1234.75,699.04 L1235.00,698.30 L1235.10,698.01 L1235.25,697.57 L1235.50,696.86 L1235.75,696.15 L1236.00,695.44 L1236.10,695.17 L1236.25,694.75 L1236.50,694.07 L1236.75,693.39 L1237.00,692.73 L1237.10,692.46 L1237.25,692.07 L1237.50,691.42 L1237.75,690.78 L1238.00,690.15 L1238.10,689.90 L1238.25,689.53 L1238.50,688.92 L1238.75,688.32 L1239.00,687.72 L1239.10,687.49 L1239.25,687.14 L1239.50,686.57 L1239.75,686.00 L1240.00,685.45 L1240.10,685.23 L1240.25,684.90 L1240.50,684.37 L1240.75,683.84 L1241.00,683.32 L1241.10,683.12 L1241.25,682.82 L1241.50,682.32 L1241.75,681.83 L1242.00,681.36 L1242.10,681.17 L1242.25,680.89 L1242.50,680.43 L1242.75,679.99 L1243.00,679.55 L1243.10,679.38 L1243.25,679.13 L1243.50,678.71 L1243.75,678.31 L1244.00,677.91 L1244.10,677.75 L1244.25,677.53 L1244.50,677.15 L1244.75,676.79 L1245.00,676.43 L1245.10,676.29 L1245.25,676.09 L1245.50,675.76 L1245.75,675.44 L1246.00,675.12 L1246.10,675.00 L1246.25,674.82 L1246.50,674.53 L1246.75,674.25 L1247.00,673.99 L1247.10,673.88 L1247.25,673.73 L1247.50,673.48 L1247.75,673.24 L1248.00,673.02 L1248.10,672.93 L1248.25,672.80 L1248.50,672.60 L1248.75,672.41 L1249.00,672.22 L1249.10,672.15 L1249.25,672.05 L1249.50,671.89 L1249.75,671.74 L1250.00,671.60 L1250.10,671.55 L1250.25,671.48 L1250.50,671.36 L1250.75,671.26 L1251.00,671.16 L1251.10,671.13 L1251.25,671.08 L1251.50,671.00 L1251.75,670.94 L1252.00,670.89 L1252.10,670.88 L1252.25,670.85 L1252.50,670.83 L1252.75,670.81 L1253.00,670.80 L1253.10,670.80 L1253.25,670.81 L1253.50,670.82 L1253.75,670.85 L1254.00,670.89 L1254.10,670.91 L1254.25,670.94 L1254.50,671.00 L1254.75,671.07 L1255.00,671.15 L1255.10,671.19 L1255.25,671.24 L1255.50,671.35 L1255.75,671.46 L1256.00,671.59 L1256.10,671.64 L1256.25,671.73 L1256.50,671.87 L1256.75,672.03 L1257.00,672.20 L1257.10,672.27 L1257.25,672.38 L1257.50,672.57 L1257.75,672.78 L1258.00,672.99 L1258.10,673.08 L1258.25,673.21 L1258.50,673.45 L1258.75,673.70 L1259.00,673.95 L1259.10,674.06 L1259.25,674.22 L1259.50,674.50 L1259.75,674.79 L1260.00,675.09 L1260.10,675.21 L1260.25,675.40 L1260.50,675.72 L1260.75,676.05 L1261.00,676.39 L1261.10,676.53 L1261.25,676.74 L1261.50,677.10 L1261.75,677.48 L1262.00,677.86 L1262.10,678.02 L1262.25,678.25 L1262.50,678.66 L1262.75,679.07 L1263.00,679.50 L1263.10,679.67 L1263.25,679.93 L1263.50,680.38 L1263.75,680.83 L1264.00,681.30 L1264.10,681.49 L1264.25,681.77 L1264.50,682.26 L1264.75,682.75 L1265.00,683.26 L1265.10,683.46 L1265.25,683.77 L1265.50,684.30 L1265.75,684.83 L1266.00,685.38 L1266.10,685.60 L1266.25,685.93 L1266.50,686.49 L1266.75,687.07 L1267.00,687.65 L1267.10,687.88 L1267.25,688.24 L1267.50,688.84 L1267.75,689.45 L1268.00,690.07 L1268.10,690.32 L1268.25,690.70 L1268.50,691.34 L1268.75,691.99 L1269.00,692.64 L1269.10,692.91 L1269.25,693.31 L1269.50,693.98 L1269.75,694.66 L1270.00,695.36 L1270.10,695.63 L1270.25,696.06 L1270.50,696.76 L1270.75,697.48 L1271.00,698.21 L1271.10,698.50 L1271.25,698.94 L1271.50,699.69 L1271.75,700.44 L1272.00,701.20 L1272.10,701.50 L1272.25,701.96 L1272.50,702.74 L1272.75,703.52 L1273.00,704.32 L1273.10,704.64 L1273.25,705.12 L1273.50,705.92 L1273.75,706.74 L1274.00,707.56 L1274.10,707.89 L1274.25,708.39 L1274.50,709.23 L1274.75,710.08 L1275.00,710.93 L1275.10,711.27 L1275.25,711.79 L1275.50,712.66 L1275.75,713.54 L1276.00,714.42 L1276.10,714.77 L1276.25,715.31 L1276.50,716.20 L1276.75,717.11 L1277.00,718.02 L1277.10,718.38 L1277.25,718.93 L1277.50,719.86 L1277.75,720.79 L1278.00,721.72 L1278.10,722.10 L1278.25,722.67 L1278.50,723.62 L1278.75,724.57 L1279.00,725.54 L1279.10,725.92 L1279.25,726.50 L1279.50,727.48 L1279.75,728.46 L1280.00,729.45 L1280.10,729.84 L1280.25,730.44 L1280.50,731.44 L1280.75,732.44 L1281.00,733.45 L1281.10,733.85 L1281.25,734.46 L1281.50,735.48 L1281.75,736.51 L1282.00,737.54 L1282.10,737.96 L1282.25,738.58 L1282.50,739.62 L1282.75,740.67 L1283.00,741.72 L1283.10,742.14 L1283.25,742.77 L1283.50,743.84 L1283.75,744.90 L1284.00,745.97 L1284.10,746.40 L1284.25,747.05 L1284.50,748.13 L1284.75,749.21 L1285.00,750.30 L1285.10,750.74 L1285.25,751.40 L1285.50,752.49 L1285.75,753.60 L1286.00,754.70 L1286.10,755.15 L1286.25,755.81 L1286.50,756.93 L1286.75,758.04 L1287.00,759.16 L1287.10,759.61 L1287.25,760.29 L1287.50,761.42 L1287.75,762.55 L1288.00,763.69 L1288.10,764.14 L1288.25,764.83 L1288.50,765.97 L1288.75,767.12 L1289.00,768.27 L1289.10,768.73 L1289.25,769.42 L1289.50,770.57 L1289.75,771.73 L1290.00,772.89 L1290.10,773.36 L1290.25,774.06 L1290.50,775.23 L1290.75,776.39 L1291.00,777.57 L1291.10,778.04 L1291.25,778.74 L1291.50,779.92 L1291.75,781.10 L1292.00,782.28 L1292.10,782.76 L1292.25,783.47 L1292.50,784.65 L1292.75,785.84 L1293.00,787.03 L1293.10,787.51 L1293.25,788.23 L1293.50,789.42 L1293.75,790.62 L1294.00,791.82 L1294.10,792.30 L1294.25,793.02 L1294.50,794.22 L1294.75,795.42 L1295.00,796.63 L1295.10,797.11 L1295.25,797.84 L1295.50,799.04 L1295.75,800.25 L1296.00,801.46 L1296.10,801.95 L1296.25,802.68 L1296.50,803.89 L1296.75,805.10 L1297.00,806.32 L1297.10,806.81 L1297.25,807.54 L1297.50,808.75 L1297.75,809.97 L1298.00,811.19 L1298.10,811.68 L1298.25,812.41 L1298.50,813.63 L1298.75,814.85 L1299.00,816.07 L1299.10,816.56 L1299.25,817.30 L1299.50,818.52 L1299.75,819.74 L1300.00,820.97 L1300.10,821.46 L1300.25,822.19 L1300.50,823.41 L1300.75,824.64 L1301.00,825.86 L1301.10,826.35 L1301.25,827.09 L1301.50,828.31 L1301.75,829.54 L1302.00,830.76 L1302.10,831.25 L1302.25,831.99 L1302.50,833.21 L1302.75,834.44 L1303.00,835.66 L1303.10,836.15 L1303.25,836.88 L1303.50,838.11 L1303.75,839.33 L1304.00,840.55 L1304.10,841.04 L1304.25,841.77 L1304.50,842.99 L1304.75,844.21 L1305.00,845.43 L1305.10,845.92 L1305.25,846.65 L1305.50,847.87 L1305.75,849.09 L1306.00,850.31 L1306.10,850.79 L1306.25,851.52 L1306.50,852.74 L1306.75,853.95 L1307.00,855.17 L1307.10,855.65 L1307.25,856.38 L1307.50,857.59 L1307.75,858.80 L1308.00,860.01 L1308.10,860.49 L1308.25,861.22 L1308.50,862.42 L1308.75,863.63 L1309.00,864.83 L1309.10,865.31 L1309.25,866.03 L1309.50,867.23 L1309.75,868.43 L1310.00,869.63 L1310.10,870.11 L1310.25,870.83 L1310.50,872.03 L1310.75,873.22 L1311.00,874.41 L1311.10,874.89 L1311.25,875.60 L1311.50,876.79 L1311.75,877.98 L1312.00,879.16 L1312.10,879.64 L1312.25,880.35 L1312.50,881.53 L1312.75,882.71 L1313.00,883.89 L1313.10,884.36 L1313.25,885.07 L1313.50,886.24 L1313.75,887.41 L1314.00,888.58 L1314.10,889.05 L1314.25,889.75 L1314.50,890.92 L1314.75,892.08 L1315.00,893.25 L1315.10,893.71 L1315.25,894.41 L1315.50,895.57 L1315.75,896.72 L1316.00,897.88 L1316.10,898.34 L1316.25,899.03 L1316.50,900.18 L1316.75,901.33 L1317.00,902.47 L1317.10,902.93 L1317.25,903.62 L1317.50,904.76 L1317.75,905.90 L1318.00,907.03 L1318.10,907.49 L1318.25,908.17 L1318.50,909.30 L1318.75,910.43 L1319.00,911.55 L1319.10,912.00 L1319.25,912.68 L1319.50,913.80 L1319.75,914.92 L1320.00,916.04 L1320.10,916.48 L1320.25,917.15 L1320.50,918.26 L1320.75,919.37 L1321.00,920.48 L1321.10,920.92 L1321.25,921.58 L1321.50,922.68 L1321.75,923.78 L1322.00,924.88 L1322.10,925.32 L1322.25,925.97 L1322.50,927.07 L1322.75,928.15 L1323.00,929.24 L1323.10,929.67 L1323.25,930.32 L1323.50,931.40 L1323.75,932.48 L1324.00,933.56 L1324.10,933.99 L1324.25,934.63 L1324.50,935.70 L1324.75,936.76 L1325.00,937.83 L1325.10,938.25 L1325.25,938.89 L1325.50,939.95 L1325.75,941.00 L1326.00,942.06 L1326.10,942.48 L1326.25,943.11 L1326.50,944.15 L1326.75,945.20 L1327.00,946.24 L1327.10,946.66 L1327.25,947.28 L1327.50,948.31 L1327.75,949.35 L1328.00,950.38 L1328.10,950.79 L1328.25,951.40 L1328.50,952.43 L1328.75,953.45 L1329.00,954.47 L1329.10,954.87 L1329.25,955.48 L1329.50,956.50 L1329.75,957.51 L1330.00,958.51 L1330.10,958.91 L1330.25,959.52 L1330.50,960.52 L1330.75,961.52 L1331.00,962.51 L1331.10,962.91 L1331.25,963.50 L1331.50,964.49 L1331.75,965.48 L1332.00,966.46 L1332.10,966.85 L1332.25,967.44 L1332.50,968.42 L1332.75,969.39 L1333.00,970.36 L1333.10,970.75 L1333.25,971.33 L1333.50,972.30 L1333.75,973.26 L1334.00,974.22 L1334.10,974.60 L1334.25,975.18 L1334.50,976.13 L1334.75,977.08 L1335.00,978.03 L1335.10,978.40 L1335.25,978.97 L1335.50,979.91 L1335.75,980.85 L1336.00,981.79 L1336.10,982.16 L1336.25,982.72 L1336.50,983.65 L1336.75,984.58 L1337.00,985.50 L1337.10,985.87 L1337.25,986.42 L1337.50,987.34 L1337.75,988.25 L1338.00,989.16 L1338.10,989.53 L1338.25,990.07 L1338.50,990.98 L1338.75,991.88 L1339.00,992.78 L1339.10,993.14 L1339.25,993.68 L1339.50,994.57 L1339.75,995.46 L1340.10,996.70 L1341.10,1000.22 L1342.10,1003.69 L1343.10,1007.11 L1344.10,1010.49 L1345.10,1013.82 L1346.10,1017.10 L1347.10,1020.33 L1348.10,1023.53 L1349.10,1026.67 L1350.10,1029.77 L1351.10,1032.83 L1352.10,1035.84 L1353.10,1038.81 L1354.10,1041.74 L1355.10,1044.62 L1356.10,1047.46 L1357.10,1050.26 L1358.10,1053.02 L1359.10,1055.74 L1360.10,1058.42 L1361.10,1061.05 L1362.10,1063.65 L1363.10,1066.21 L1364.10,1068.73 L1365.10,1071.22 L1366.10,1073.66 L1367.10,1076.07 L1368.10,1078.45 L1369.10,1080.79 L1370.10,1083.09 L1371.10,1085.36 L1372.10,1087.59 L1373.10,1089.79 L1374.10,1091.96 L1375.10,1094.10 L1376.10,1096.20 L1377.10,1098.27 L1378.10,1100.31 L1379.10,1102.32 L1380.10,1104.30 L1381.10,1106.25 L1382.10,1108.17 L1383.10,1110.06 L1384.10,1111.93 L1385.10,1113.76 L1386.10,1115.57 L1387.10,1117.35 L1388.10,1119.11 L1389.10,1120.84 L1390.10,1122.54 L1391.10,1124.22 L1392.10,1125.87 L1393.10,1127.50 L1394.10,1129.11 L1395.10,1130.69 L1396.10,1132.25 L1397.10,1133.78 L1398.10,1135.30 L1399.10,1136.79 L1400.10,1138.26 L1401.10,1139.71 L1402.10,1141.14 L1403.10,1142.54 L1404.10,1143.93 L1405.10,1145.30 L1406.10,1146.64 L1407.10,1147.97 L1408.10,1149.28 L1409.10,1150.57 L1410.10,1151.84 L1411.10,1153.10 L1412.10,1154.33 L1413.10,1155.55 L1414.10,1156.75 L1415.10,1157.94 L1416.10,1159.11 L1417.10,1160.26 L1418.10,1161.40 L1419.10,1162.52 L1420.10,1163.62 L1421.10,1164.71 L1422.10,1165.79 L1423.10,1166.85 L1424.10,1167.89 L1425.10,1168.93 L1426.10,1169.94 L1427.10,1170.95 L1428.10,1171.94 L1429.10,1172.91 L1430.10,1173.88 L1431.10,1174.83 L1432.10,1175.77 L1433.10,1176.69 L1434.10,1177.61 L1435.10,1178.51 L1436.10,1179.40 L1437.10,1180.28 L1438.10,1181.15 L1439.10,1182.00 L1440.10,1182.85 L1441.10,1183.68 L1442.10,1184.50 L1443.10,1185.31 L1444.10,1186.11 L1445.10,1186.91 L1446.10,1187.69 L1447.10,1188.46 L1448.10,1189.22 L1449.10,1189.97 L1450.10,1190.72 L1451.10,1191.45 L1452.10,1192.17 L1453.10,1192.89 L1454.10,1193.59 L1455.10,1194.29 L1456.10,1194.98 L1457.10,1195.66 L1458.10,1196.33 L1459.10,1197.00 L1460.10,1197.65 L1461.10,1198.30 L1462.10,1198.94 L1463.10,1199.57 L1464.10,1200.20 L1465.10,1200.81 L1466.10,1201.42 L1467.10,1202.03 L1468.10,1202.62 L1469.10,1203.21 L1470.10,1203.79 L1471.10,1204.37 L1472.10,1204.93 L1473.10,1205.49 L1474.10,1206.05 L1475.10,1206.60 L1476.10,1207.14 L1477.10,1207.67 L1478.10,1208.20 L1479.10,1208.73 L1480.10,1209.24 L1481.10,1209.76 L1482.10,1210.26 L1483.10,1210.76 L1484.10,1211.26 L1485.10,1211.74 L1486.10,1212.23 L1487.10,1212.71 L1488.10,1213.18 L1489.10,1213.64 L1490.10,1214.11 L1491.10,1214.56 L1492.10,1215.02 L1493.10,1215.46 L1494.10,1215.90 L1495.10,1216.34 L1496.10,1216.77 L1497.10,1217.20 L1498.10,1217.62 L1499.10,1218.04 L1500.10,1218.46 L1501.10,1218.87 L1502.10,1219.27 L1503.10,1219.67 L1504.10,1220.07 L1505.10,1220.46 L1506.10,1220.85 L1507.10,1221.23 L1508.10,1221.61 L1509.10,1221.99 L1510.10,1222.36 L1511.10,1222.73 L1512.10,1223.10 L1513.10,1223.46 L1514.10,1223.81 L1515.10,1224.17 L1516.10,1224.52 L1517.10,1224.86 L1518.10,1225.21 L1519.10,1225.55 L1520.10,1225.88 L1521.10,1226.21 L1522.10,1226.54 L1523.10,1226.87 L1524.10,1227.19 L1525.10,1227.51 L1526.10,1227.83 L1527.10,1228.14 L1528.10,1228.45 L1529.10,1228.75 L1530.10,1229.06 L1531.10,1229.36 L1532.10,1229.66 L1533.10,1229.95 L1534.10,1230.24 L1535.10,1230.53 L1536.10,1230.82 L1537.10,1231.10 L1538.10,1231.38 L1539.10,1231.66 L1540.10,1231.94 L1541.10,1232.21 L1542.10,1232.48 L1543.10,1232.75 L1544.10,1233.01 L1545.10,1233.28 L1546.10,1233.54 L1547.10,1233.79 L1548.10,1234.05 L1549.10,1234.30 L1550.10,1234.55 L1551.10,1234.80 L1552.10,1235.05 L1553.10,1235.29 L1554.10,1235.53 L1555.10,1235.77 L1556.10,1236.01 L1557.10,1236.24 L1558.10,1236.47 L1559.10,1236.70 L1560.10,1236.93 L1561.10,1237.16 L1562.10,1237.38 L1563.10,1237.60 L1564.10,1237.82 L1565.10,1238.04 L1566.10,1238.26 L1567.10,1238.47 L1568.10,1238.68 L1569.10,1238.89 L1570.10,1239.10 L1571.10,1239.31 L1572.10,1239.51 L1573.10,1239.72 L1574.10,1239.92 L1575.10,1240.12 L1576.10,1240.31 L1577.10,1240.51 L1578.10,1240.70 L1579.10,1240.90 L1580.10,1241.09 L1581.10,1241.28 L1582.10,1241.46 L1583.10,1241.65 L1584.10,1241.83 L1585.10,1242.02 L1586.10,1242.20 L1587.10,1242.38 L1588.10,1242.55 L1589.10,1242.73 L1590.10,1242.91 L1591.10,1243.08 L1592.10,1243.25 L1593.10,1243.42 L1594.10,1243.59 L1595.10,1243.76 L1596.10,1243.92 L1597.10,1244.09 L1598.10,1244.25 L1599.10,1244.41 L1600.10,1244.57 L1601.10,1244.73 L1602.10,1244.89 L1603.10,1245.05 L1604.10,1245.20 L1605.10,1245.36 L1606.10,1245.51 L1607.10,1245.66 L1608.10,1245.81 L1609.10,1245.96 L1610.10,1246.10 L1611.10,1246.25 L1612.10,1246.40 L1613.10,1246.54 L1614.10,1246.68 L1615.10,1246.82 L1616.10,1246.96 L1617.10,1247.10 L1618.10,1247.24 L1619.10,1247.38 L1620.10,1247.51 L1621.10,1247.65 L1622.10,1247.78 L1623.10,1247.91 L1624.10,1248.04 L1625.10,1248.17 L1626.10,1248.30 L1627.10,1248.43 L1628.10,1248.56 L1629.10,1248.68 L1630.10,1248.81 L1631.10,1248.93 L1632.10,1249.05 L1633.10,1249.17 L1634.10,1249.29 L1635.10,1249.41 L1636.10,1249.53 L1637.10,1249.65 L1638.10,1249.77 L1639.10,1249.88 L1640.10,1250.00 L1641.10,1250.11 L1642.10,1250.22 L1643.10,1250.33 L1644.10,1250.45 L1645.10,1250.56 L1646.10,1250.66 L1647.10,1250.77 L1648.10,1250.88 L1649.10,1250.99 L1650.10,1251.09 L1651.10,1251.20 L1652.10,1251.30 L1653.10,1251.40 L1654.10,1251.50 L1655.10,1251.60 L1656.10,1251.70 L1657.10,1251.80 L1658.10,1251.90 L1659.10,1252.00 L1660.10,1252.10 L1661.10,1252.19 L1662.10,1252.29 L1663.10,1252.38 L1664.10,1252.47 L1665.10,1252.57 L1666.10,1252.66 L1667.10,1252.75 L1668.10,1252.84 L1669.10,1252.93 L1670.10,1253.02 L1671.10,1253.11 L1672.10,1253.19 L1673.10,1253.28 L1674.10,1253.36 L1675.10,1253.45 L1676.10,1253.53 L1677.10,1253.62 L1678.10,1253.70 L1679.10,1253.78 L1680.10,1253.86 L1681.10,1253.94 L1682.10,1254.02 L1683.10,1254.10 L1684.10,1254.18 L1685.10,1254.25 L1686.10,1254.33 L1687.10,1254.41 L1688.10,1254.48 L1689.10,1254.55 L1690.10,1254.63 L1691.10,1254.70 L1692.10,1254.77 L1693.10,1254.84 L1694.10,1254.91 L1695.10,1254.98 L1696.10,1255.05 L1697.10,1255.12 L1698.10,1255.19 L1699.10,1255.26 L1700.10,1255.32 L1701.10,1255.39 L1702.10,1255.45 L1703.10,1255.52 L1704.10,1255.58 L1705.10,1255.64 L1706.10,1255.70 L1707.10,1255.77 L1708.10,1255.83 L1709.10,1255.89 L1710.10,1255.94 L1711.10,1256.00 L1712.10,1256.06 L1713.10,1256.12 L1714.10,1256.17 L1715.10,1256.23 L1716.10,1256.28 L1717.10,1256.34 L1718.10,1256.39 L1719.10,1256.44 L1720.10,1256.50 L1721.10,1256.55 L1722.10,1256.60 L1723.10,1256.65 L1724.10,1256.70 L1725.10,1256.75 L1726.10,1256.79 L1727.10,1256.84 L1728.10,1256.89 L1729.10,1256.93 L1730.10,1256.98 L1731.10,1257.02 L1732.10,1257.06 L1733.10,1257.11 L1734.10,1257.15 L1735.10,1257.19 L1736.10,1257.23 L1737.10,1257.27 L1738.10,1257.31 L1739.10,1257.35 L1740.10,1257.38 L1741.10,1257.42 L1742.10,1257.46 L1743.10,1257.49 L1744.10,1257.53 L1745.10,1257.56 L1746.10,1257.59 L1747.10,1257.62 L1748.10,1257.66 L1749.10,1257.69 L1750.10,1257.72 L1751.10,1257.74 L1752.10,1257.77 L1753.10,1257.80 L1754.10,1257.83 L1755.10,1257.85 L1756.10,1257.88 L1757.10,1257.90 L1758.10,1257.92 L1759.10,1257.94 L1760.10,1257.97 L1761.10,1257.99 L1762.10,1258.01 L1763.10,1258.02 L1764.10,1258.04 L1765.10,1258.06 L1766.10,1258.08 L1767.10,1258.09 L1768.10,1258.10 L1769.10,1258.12 L1770.10,1258.13 L1771.10,1258.14 L1772.10,1258.15 L1773.10,1258.16 L1774.10,1258.17 L1775.10,1258.18 L1776.10,1258.18 L1777.10,1258.19 L1778.10,1258.19 L1779.10,1258.20 L1780.10,1258.20 L1781.10,1258.20 L1782.10,1258.20 L1783.10,1258.20 L1784.10,1258.20 L1785.10,1258.20 L1786.10,1258.19 L1787.10,1258.19 L1788.10,1258.18 L1789.10,1258.17 L1790.10,1258.17 L1791.10,1258.16 L1792.10,1258.15 L1793.10,1258.13 L1794.10,1258.12 L1795.10,1258.11 L1796.10,1258.09 L1797.10,1258.08 L1798.10,1258.06 L1799.10,1258.04 L1800.10,1258.02 L1801.10,1258.00 L1802.10,1257.98 L1803.10,1257.95 L1804.10,1257.93 L1805.10,1257.90 L1806.10,1257.87 L1807.10,1257.84 L1808.10,1257.81 L1809.10,1257.78 L1810.10,1257.75 L1811.10,1257.72 L1812.10,1257.68 L1813.10,1257.64 L1814.10,1257.61 L1815.10,1257.57 L1816.10,1257.53 L1817.10,1257.48 L1818.10,1257.44 L1819.10,1257.40 L1820.10,1257.35 L1821.10,1257.30 L1822.10,1257.26 L1823.10,1257.21 L1824.10,1257.16 L1825.10,1257.10 L1826.10,1257.05 L1827.10,1257.00 L1828.10,1256.94 L1829.10,1256.88 L1830.10,1256.82 L1831.10,1256.77 L1832.10,1256.70 L1833.10,1256.64 L1834.10,1256.58 L1835.10,1256.52 L1836.10,1256.45 L1837.10,1256.39 L1838.10,1256.32 L1839.10,1256.25 L1840.10,1256.18 L1841.10,1256.11 L1842.10,1256.04 L1843.10,1255.97 L1844.10,1255.90 L1845.10,1255.83 L1846.10,1255.76 L1847.10,1255.68 L1848.10,1255.61 L1849.10,1255.53 L1850.10,1255.46 L1851.10,1255.39 L1852.10,1255.31 L1853.10,1255.24 L1854.10,1255.16 L1855.10,1255.09 L1856.10,1255.01 L1857.10,1254.94 L1858.10,1254.87 L1859.10,1254.80 L1860.10,1254.72 L1861.10,1254.65 L1862.10,1254.58 L1863.10,1254.51 L1864.10,1254.45 L1865.10,1254.38 L1866.10,1254.32 L1867.10,1254.25 L1868.10,1254.19 L1869.10,1254.13 L1870.10,1254.07 L1871.10,1254.02 L1872.10,1253.96 L1873.10,1253.91 L1874.10,1253.86 L1875.10,1253.82 L1876.10,1253.78 L1877.10,1253.74 L1878.10,1253.70 L1879.10,1253.66 L1880.10,1253.63 L1881.10,1253.61 L1882.10,1253.58 L1883.10,1253.56 L1884.10,1253.54 L1885.10,1253.53 L1886.10,1253.52 L1887.10,1253.52 L1888.10,1253.52 L1889.10,1253.52 L1890.10,1253.52 L1891.10,1253.54 L1892.10,1253.55 L1893.10,1253.57 L1894.10,1253.59 L1895.10,1253.62 L1896.10,1253.65 L1897.10,1253.69 L1898.10,1253.73 L1899.10,1253.77 L1900.10,1253.82 L1901.10,1253.88 L1902.10,1253.93 L1903.10,1254.00 L1904.10,1254.06 L1905.10,1254.13 L1906.10,1254.20 L1907.10,1254.28 L1908.10,1254.36 L1909.10,1254.44 L1910.10,1254.53 L1911.10,1254.62 L1912.10,1254.72 L1913.10,1254.82 L1914.10,1254.92 L1915.10,1255.02 L1916.10,1255.13 L1917.10,1255.23 L1918.10,1255.35 L1919.10,1255.46 L1920.10,1255.58 L1921.10,1255.69 L1922.10,1255.81 L1923.10,1255.94 L1924.10,1256.06 L1925.10,1256.19 L1926.10,1256.31 L1927.10,1256.44 L1928.10,1256.57 L1929.10,1256.70 L1930.10,1256.84 L1931.10,1256.97 L1932.10,1257.10 L1933.10,1257.24 L1934.10,1257.37 L1935.10,1257.51 L1936.10,1257.64 L1937.10,1257.78 L1938.10,1257.92 L1939.10,1258.05 L1940.10,1258.19 L1941.10,1258.33 L1942.10,1258.46 L1943.10,1258.60 L1944.10,1258.73 L1945.10,1258.87 L1946.10,1259.00 L1947.10,1259.14 L1948.10,1259.27 L1949.10,1259.40 L1950.10,1259.54 L1951.10,1259.67 L1952.10,1259.80 L1953.10,1259.93 L1954.10,1260.06 L1955.10,1260.19 L1956.10,1260.31 L1957.10,1260.44 L1958.10,1260.57 L1959.10,1260.69 L1960.10,1260.81 L1961.10,1260.94 L1962.10,1261.06 L1963.10,1261.18 L1964.10,1261.30 L1965.10,1261.41 L1966.10,1261.53 L1967.10,1261.65 L1968.10,1261.76 L1969.10,1261.87 L1970.10,1261.99 L1971.10,1262.10 L1972.10,1262.21 L1973.10,1262.32 L1974.10,1262.42 L1975.10,1262.53 L1976.10,1262.63 L1977.10,1262.74 L1978.10,1262.84 L1979.10,1262.94 L1980.10,1263.04 L1981.10,1263.14 L1982.10,1263.24 L1983.10,1263.34 L1984.10,1263.43 L1985.10,1263.53 L1986.10,1263.62 L1987.10,1263.71 L1988.10,1263.80 L1989.10,1263.89 L1990.10,1263.98 L1991.10,1264.07 L1992.10,1264.16 L1993.10,1264.24 L1994.10,1264.33 L1995.10,1264.41 L1996.10,1264.50 L1997.10,1264.58 L1998.10,1264.66 L1999.10,1264.74 L2000.10,1264.82 L2001.10,1264.90 L2002.10,1264.97 L2003.10,1265.05 L2004.10,1265.12 L2005.10,1265.20 L2006.10,1265.27 L2007.10,1265.34 L2008.10,1265.42 L2009.10,1265.49 L2010.10,1265.56 L2011.10,1265.63 L2012.10,1265.69 L2013.10,1265.76 L2014.10,1265.83 L2015.10,1265.89 L2016.10,1265.96 L2017.10,1266.02 L2018.10,1266.09 L2019.10,1266.15 L2020.10,1266.21 L2021.10,1266.27 L2022.10,1266.33 L2023.10,1266.39 L2024.10,1266.45 L2025.10,1266.51 L2026.10,1266.57 L2027.10,1266.63 L2028.10,1266.69 L2029.10,1266.74 L2030.10,1266.80 L2031.10,1266.85 L2032.10,1266.91 L2033.10,1266.96 L2034.10,1267.01 L2035.10,1267.07 L2036.10,1267.12 L2037.10,1267.17 L2038.10,1267.22 L2039.10,1267.27 L2040.10,1267.32 L2041.10,1267.37 L2042.10,1267.42 L2043.10,1267.47 L2044.10,1267.51 L2045.10,1267.56 L2046.10,1267.61 L2047.10,1267.65 L2048.10,1267.70 L2049.10,1267.74 L2050.10,1267.79 L2051.10,1267.83 L2052.10,1267.88 L2053.10,1267.92 L2054.10,1267.96 L2055.10,1268.01 L2056.10,1268.05 L2057.10,1268.09 L2058.10,1268.13 L2059.10,1268.17 L2060.10,1268.21 L2061.10,1268.25 L2062.10,1268.29 L2063.10,1268.33 L2064.10,1268.37 L2065.10,1268.41 L2066.10,1268.45 L2067.10,1268.49 L2068.10,1268.53 L2069.10,1268.56 L2070.10,1268.60 L2071.10,1268.64 L2072.10,1268.67 L2073.10,1268.71 L2074.10,1268.74 L2075.10,1268.78 L2076.10,1268.81 L2077.10,1268.85 L2078.10,1268.88 L2079.10,1268.92 L2080.10,1268.95 L2081.10,1268.98 L2082.10,1269.02 L2083.10,1269.05 L2084.10,1269.08 L2085.10,1269.12 L2086.10,1269.15 L2087.10,1269.18 L2088.10,1269.21 L2089.10,1269.24 L2090.10,1269.27 L2091.10,1269.30 L2092.10,1269.34 L2093.10,1269.37 L2094.10,1269.40 L2095.10,1269.43 L2096.10,1269.46 L2097.10,1269.48 L2098.10,1269.51 L2099.10,1269.54 L2100.10,1269.57 L2101.10,1269.60 L2102.10,1269.63 L2103.10,1269.66 L2104.10,1269.68 L2105.10,1269.71 L2106.10,1269.74 L2107.10,1269.77 L2108.10,1269.79 L2109.10,1269.82 L2110.10,1269.85 L2111.10,1269.87 L2112.10,1269.90 L2113.10,1269.93 L2114.10,1269.95 L2115.10,1269.98 L2116.10,1270.00 L2117.10,1270.03 L2118.10,1270.05 L2119.10,1270.08 L2120.10,1270.10 L2121.10,1270.13 L2122.10,1270.15 L2123.10,1270.18 L2124.10,1270.20 L2125.10,1270.22 L2126.10,1270.25 L2127.10,1270.27 L2128.10,1270.29 L2129.10,1270.32 L2130.10,1270.34 L2131.10,1270.36 L2132.10,1270.39 L2133.10,1270.41 L2134.10,1270.43 L2135.10,1270.45 L2136.10,1270.48 L2137.10,1270.50 L2138.10,1270.52 L2139.10,1270.54 L2140.10,1270.56 L2141.10,1270.58 L2142.10,1270.61 L2143.10,1270.63 L2144.10,1270.65 L2145.10,1270.67 L2146.10,1270.69 L2147.10,1270.71 L2148.10,1270.73 L2149.10,1270.75 L2150.10,1270.77 L2151.10,1270.79 L2152.10,1270.81 L2153.10,1270.83 L2154.10,1270.85 L2155.10,1270.87 L2156.10,1270.89 L2157.10,1270.91 L2158.10,1270.93 L2159.10,1270.95 L2160.10,1270.97 L2161.10,1270.99 L2162.10,1271.01 L2163.10,1271.03 L2164.10,1271.05 L2165.10,1271.06 L2166.10,1271.08 L2167.10,1271.10 L2168.10,1271.12 L2169.10,1271.14 L2170.10,1271.16 L2171.10,1271.17 L2172.10,1271.19 L2173.10,1271.21 L2174.10,1271.23 L2175.10,1271.24 L2176.10,1271.26 L2177.10,1271.28 L2178.10,1271.30 L2179.10,1271.31 L2180.10,1271.33 L2181.10,1271.35 L2182.10,1271.37 L2183.10,1271.38 L2184.10,1271.40 L2185.10,1271.42 L2186.10,1271.43 L2187.10,1271.45 L2188.10,1271.47 L2189.10,1271.48 L2190.10,1271.50 L2191.10,1271.51 L2192.10,1271.53 L2193.10,1271.55 L2194.10,1271.56 L2195.10,1271.58 L2196.10,1271.59 L2197.10,1271.61 L2198.10,1271.63 L2199.10,1271.64 L2200.10,1271.66 L2201.10,1271.67 L2202.10,1271.69 L2203.10,1271.70 L2204.10,1271.72 L2205.10,1271.73 L2206.10,1271.75 L2207.10,1271.76 L2208.10,1271.78 L2209.10,1271.79 L2210.10,1271.81 L2211.10,1271.82 L2212.10,1271.84 L2213.10,1271.85 L2214.10,1271.87 L2215.10,1271.88 L2216.10,1271.89 L2217.10,1271.91 L2218.10,1271.92 L2219.10,1271.94 L2220.10,1271.95 L2221.10,1271.96 L2222.10,1271.98 L2223.10,1271.99 L2224.10,1272.01 L2225.10,1272.02 L2226.10,1272.03 L2227.10,1272.05 L2228.10,1272.06 L2229.10,1272.07 L2230.10,1272.09 L2231.10,1272.10 L2232.10,1272.11 L2233.10,1272.13 L2234.10,1272.14 L2235.10,1272.15 L2236.10,1272.17 L2237.10,1272.18 L2238.10,1272.19 L2239.10,1272.21 L2240.10,1272.22 L2241.10,1272.23 L2242.10,1272.25 L2243.10,1272.26 L2244.10,1272.27 L2245.10,1272.28 L2246.10,1272.30 L2247.10,1272.31 L2248.10,1272.32 L2249.10,1272.33 L2250.10,1272.35 L2251.10,1272.36 L2252.10,1272.37 L2253.10,1272.38 L2254.10,1272.39 L2255.10,1272.41 L2256.10,1272.42 L2257.10,1272.43 L2258.10,1272.44 L2259.10,1272.45 L2260.10,1272.47 L2261.10,1272.48 L2262.10,1272.49 L2263.10,1272.50 L2264.10,1272.51"/>
</g>
<g clip-path="url(#clip2)" fill="none" stroke="#f94848" stroke-width="4.0" stroke-dasharray="15.8 15.31">
<line x1="765.10" y1="1271.60" x2="765.10" y2="4.30"/>
<line x1="1212.20" y1="1271.60" x2="1212.20" y2="4.30"/>
</g>
<text class="leg" style="font-size:48.8px" x="596.3" y="650.6">Offline</text>
<text class="leg" style="font-size:49px" x="1050.3" y="657.2">Online</text>
<rect x="1686" y="68" width="570.4" height="194" fill="#ffffff"/>
<line x1="1694" y1="115" x2="1775" y2="115" stroke="#0072bd" stroke-width="5.6"/>
<line x1="1694" y1="208.2" x2="1775" y2="208.2" stroke="#d95319" stroke-width="5.6"/>
<text class="leg" x="1781" y="132.3">Spaceborne platform</text>
<text class="leg" x="1782" y="215.5">CO<tspan dy="22.5" font-size="38.5px">2</tspan><tspan dy="-22.5"> absorption cell</tspan></text>
<text class="lab" transform="translate(976.6,1391) scale(1.145,1)">Wavenumber<tspan font-size="66px" dy="10" dx="2.6" stroke="#fff" stroke-width="1.3">/</tspan><tspan dy="-10" dx="1.6">cm</tspan><tspan dy="-17.6" dx="0.8" font-size="31px" letter-spacing="4.0" stroke-width="0.6">−1</tspan></text>
<text class="lab" text-anchor="middle" transform="translate(59.5,648) rotate(-90) scale(1.12,1)">OD</text>
</svg>
</body></html>
